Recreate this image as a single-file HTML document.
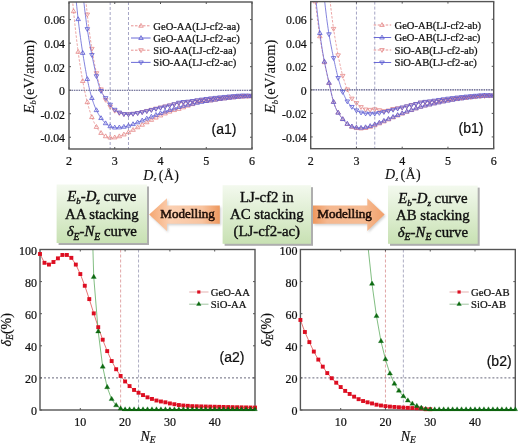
<!DOCTYPE html>
<html><head><meta charset="utf-8"><title>Figure</title>
<style>html,body{margin:0;padding:0;background:#fff;}svg{display:block;}text{stroke:#111;stroke-width:0.22px;}</style></head>
<body><svg width="520" height="444" viewBox="0 0 520 444">
<defs>
<filter id="blur" x="-10%" y="-10%" width="120%" height="120%"><feGaussianBlur stdDeviation="1"/></filter><filter id="soft" x="0" y="0" width="100%" height="100%" filterUnits="userSpaceOnUse"><feGaussianBlur stdDeviation="0.35"/></filter><filter id="blur2" x="-10%" y="-10%" width="120%" height="120%"><feGaussianBlur stdDeviation="0.6"/></filter>
<linearGradient id="gg" x1="0" y1="0" x2="0" y2="1"><stop offset="0" stop-color="#f3f9ee"/><stop offset="1" stop-color="#c8e1b3"/></linearGradient>
<linearGradient id="oL" x1="0" y1="0" x2="1" y2="0"><stop offset="0" stop-color="#f5a670"/><stop offset="0.3" stop-color="#fbd0b2"/><stop offset="0.75" stop-color="#f8c4a0"/><stop offset="1" stop-color="#ee985e"/></linearGradient>
<linearGradient id="oR" x1="0" y1="0" x2="1" y2="0"><stop offset="0" stop-color="#ee985e"/><stop offset="0.2" stop-color="#f5b890"/><stop offset="0.7" stop-color="#f6bc94"/><stop offset="1" stop-color="#f2a06a"/></linearGradient>
</defs>
<rect width="520" height="444" fill="#fff"/>
<g font-family="'Liberation Serif','Times New Roman',serif" fill="#111" filter="url(#soft)">
<clipPath id="c69"><rect x="69" y="2" width="183" height="147"/></clipPath>
<line x1="110.17" y1="2" x2="110.17" y2="149" stroke="#a4a4c4" stroke-width="1" stroke-dasharray="3,2"/>
<line x1="128.47" y1="2" x2="128.47" y2="149" stroke="#a4a4c4" stroke-width="1" stroke-dasharray="3,2"/>
<line x1="69" y1="90.20" x2="252" y2="90.20" stroke="#505080" stroke-width="1.1" stroke-dasharray="1.6,0.8"/>
<g clip-path="url(#c69)">
<polyline points="69.46,-36.30 69.92,-30.44 70.37,-24.73 70.83,-19.17 71.29,-13.75 71.75,-8.48 72.20,-3.34 72.66,1.67 73.12,6.54 73.58,11.29 74.03,15.91 74.49,20.40 74.95,24.77 75.41,29.01 75.86,33.13 76.32,37.12 76.78,40.99 77.24,44.74 77.69,48.36 78.15,51.86 78.61,55.25 79.07,58.52 79.52,61.67 79.98,64.72 80.44,67.67 80.89,70.52 81.35,73.27 81.81,75.94 82.27,78.52 82.72,81.03 83.18,83.45 83.64,85.81 84.10,88.09 84.55,90.31 85.01,92.46 85.47,94.54 85.93,96.56 86.38,98.51 86.84,100.40 87.30,102.23 87.76,103.99 88.22,105.69 88.67,107.32 89.13,108.90 89.59,110.41 90.05,111.87 90.50,113.27 90.96,114.61 91.42,115.90 91.88,117.14 92.33,118.32 92.79,119.46 93.25,120.54 93.70,121.59 94.16,122.58 94.62,123.53 95.08,124.44 95.53,125.31 95.99,126.14 96.45,126.94 96.91,127.69 97.37,128.41 97.82,129.09 98.28,129.74 98.74,130.36 99.20,130.94 99.65,131.50 100.11,132.02 100.57,132.52 101.03,132.98 101.48,133.42 101.94,133.84 102.40,134.22 102.86,134.59 103.31,134.93 103.77,135.24 104.23,135.54 104.69,135.81 105.14,136.06 105.60,136.29 106.06,136.50 106.52,136.69 106.97,136.86 107.43,137.02 107.89,137.15 108.34,137.27 108.80,137.38 109.26,137.47 109.72,137.54 110.17,137.59 110.63,137.63 111.09,137.66 111.55,137.68 112.00,137.68 112.46,137.67 112.92,137.64 113.38,137.61 113.84,137.56 114.29,137.50 114.75,137.44 115.21,137.36 115.66,137.27 116.12,137.18 116.58,137.08 117.04,136.97 117.50,136.85 117.95,136.72 118.41,136.59 118.87,136.45 119.33,136.30 119.78,136.14 120.24,135.98 120.70,135.82 121.16,135.64 121.61,135.47 122.07,135.28 122.53,135.10 122.98,134.90 123.44,134.71 123.90,134.50 124.36,134.30 124.81,134.09 125.27,133.88 125.73,133.66 126.19,133.44 126.64,133.22 127.10,132.99 127.56,132.76 128.02,132.53 128.47,132.30 128.93,132.06 129.39,131.83 129.85,131.59 130.31,131.34 130.76,131.10 131.22,130.86 131.68,130.61 132.13,130.36 132.59,130.12 133.05,129.87 133.51,129.62 133.97,129.36 134.42,129.11 134.88,128.86 135.34,128.61 135.80,128.35 136.25,128.10 136.71,127.84 137.17,127.59 137.62,127.33 138.08,127.08 138.54,126.82 139.00,126.57 139.45,126.31 139.91,126.06 140.37,125.80 140.83,125.55 141.28,125.29 141.74,125.04 142.20,124.79 142.66,124.54 143.12,124.28 143.57,124.03 144.03,123.78 144.49,123.53 144.94,123.28 145.40,123.04 145.86,122.79 146.32,122.54 146.78,122.30 147.23,122.05 147.69,121.81 148.15,121.57 148.61,121.32 149.06,121.08 149.52,120.85 149.98,120.61 150.44,120.37 150.89,120.13 151.35,119.90 151.81,119.67 152.27,119.44 152.72,119.20 153.18,118.98 153.64,118.75 154.10,118.52 154.55,118.29 155.01,118.07 155.47,117.85 155.93,117.63 156.38,117.41 156.84,117.19 157.30,116.97 157.75,116.75 158.21,116.54 158.67,116.33 159.13,116.12 159.58,115.91 160.04,115.70 160.50,115.49 160.96,115.28 161.41,115.08 161.87,114.88 162.33,114.67 162.79,114.47 163.25,114.28 163.70,114.08 164.16,113.88 164.62,113.69 165.07,113.50 165.53,113.30 165.99,113.12 166.45,112.93 166.91,112.74 167.36,112.56 167.82,112.37 168.28,112.19 168.73,112.01 169.19,111.84 169.65,111.66 170.11,111.49 170.57,111.32 171.02,111.16 171.48,111.00 171.94,110.84 172.39,110.69 172.85,110.54 173.31,110.40 173.77,110.26 174.23,110.13 174.68,110.01 175.14,109.88 175.60,109.77 176.06,109.65 176.51,109.54 176.97,109.42 177.43,109.31 177.88,109.20 178.34,109.08 178.80,108.95 179.26,108.82 179.72,108.69 180.17,108.55 180.63,108.40 181.09,108.24 181.55,108.07 182.00,107.90 182.46,107.73 182.92,107.55 183.38,107.37 183.83,107.19 184.29,107.01 184.75,106.83 185.20,106.65 185.66,106.48 186.12,106.31 186.58,106.15 187.03,105.99 187.49,105.83 187.95,105.68 188.41,105.53 188.87,105.38 189.32,105.24 189.78,105.10 190.24,104.95 190.69,104.80 191.15,104.66 191.61,104.50 192.07,104.35 192.53,104.18 192.98,104.01 193.44,103.84 193.90,103.65 194.36,103.47 194.81,103.27 195.27,103.07 195.73,102.87 196.19,102.67 196.64,102.47 197.10,102.28 197.56,102.09 198.02,101.92 198.47,101.76 198.93,101.61 199.39,101.48 199.84,101.37 200.30,101.28 200.76,101.21 201.22,101.16 201.68,101.12 202.13,101.09 202.59,101.08 203.05,101.07 203.50,101.07 203.96,101.07 204.42,101.07 204.88,101.07 205.34,101.06 205.79,101.05 206.25,101.03 206.71,101.00 207.16,100.97 207.62,100.93 208.08,100.88 208.54,100.83 209.00,100.77 209.45,100.71 209.91,100.64 210.37,100.57 210.82,100.50 211.28,100.43 211.74,100.35 212.20,100.28 212.66,100.20 213.11,100.13 213.57,100.05 214.03,99.98 214.48,99.90 214.94,99.83 215.40,99.76 215.86,99.68 216.32,99.61 216.77,99.54 217.23,99.47 217.69,99.40 218.14,99.33 218.60,99.26 219.06,99.19 219.52,99.12 219.98,99.05 220.43,98.99 220.89,98.92 221.35,98.86 221.81,98.79 222.26,98.73 222.72,98.66 223.18,98.60 223.63,98.54 224.09,98.47 224.55,98.41 225.01,98.35 225.47,98.29 225.92,98.23 226.38,98.17 226.84,98.11 227.29,98.05 227.75,97.99 228.21,97.94 228.67,97.88 229.12,97.82 229.58,97.77 230.04,97.71 230.50,97.66 230.96,97.60 231.41,97.55 231.87,97.50 232.33,97.44 232.78,97.39 233.24,97.34 233.70,97.29 234.16,97.23 234.62,97.18 235.07,97.13 235.53,97.08 235.99,97.03 236.44,96.99 236.90,96.94 237.36,96.89 237.82,96.84 238.28,96.79 238.73,96.75 239.19,96.70 239.65,96.66 240.11,96.62 240.56,96.57 241.02,96.53 241.48,96.49 241.94,96.46 242.39,96.43 242.85,96.40 243.31,96.37 243.77,96.35 244.22,96.33 244.68,96.32 245.14,96.31 245.59,96.31 246.05,96.32 246.51,96.33 246.97,96.35 247.43,96.37 247.88,96.39 248.34,96.42 248.80,96.44 249.25,96.46 249.71,96.48 250.17,96.49 250.63,96.49 251.09,96.48 251.54,96.46 252.00,96.43" fill="none" stroke="#e48686" stroke-width="0.75" stroke-dasharray="2.5,1.5"/>
<polygon points="73.58,8.89 75.86,12.73 71.30,12.73" fill="none" stroke="#e48686" stroke-width="0.8"/>
<polygon points="78.15,49.46 80.43,53.30 75.87,53.30" fill="none" stroke="#e48686" stroke-width="0.8"/>
<polygon points="82.73,78.63 85.01,82.47 80.45,82.47" fill="none" stroke="#e48686" stroke-width="0.8"/>
<polygon points="87.30,99.83 89.58,103.67 85.02,103.67" fill="none" stroke="#e48686" stroke-width="0.8"/>
<polygon points="91.88,114.74 94.16,118.58 89.60,118.58" fill="none" stroke="#e48686" stroke-width="0.8"/>
<polygon points="96.45,124.54 98.73,128.38 94.17,128.38" fill="none" stroke="#e48686" stroke-width="0.8"/>
<polygon points="101.03,130.58 103.31,134.42 98.75,134.42" fill="none" stroke="#e48686" stroke-width="0.8"/>
<polygon points="105.60,133.89 107.88,137.73 103.32,137.73" fill="none" stroke="#e48686" stroke-width="0.8"/>
<polygon points="110.18,135.19 112.46,139.03 107.90,139.03" fill="none" stroke="#e48686" stroke-width="0.8"/>
<polygon points="114.75,135.04 117.03,138.88 112.47,138.88" fill="none" stroke="#e48686" stroke-width="0.8"/>
<polygon points="119.33,133.90 121.61,137.74 117.05,137.74" fill="none" stroke="#e48686" stroke-width="0.8"/>
<polygon points="123.90,132.10 126.18,135.94 121.62,135.94" fill="none" stroke="#e48686" stroke-width="0.8"/>
<polygon points="128.48,129.90 130.76,133.74 126.20,133.74" fill="none" stroke="#e48686" stroke-width="0.8"/>
<polygon points="133.05,127.47 135.33,131.31 130.77,131.31" fill="none" stroke="#e48686" stroke-width="0.8"/>
<polygon points="137.63,124.93 139.91,128.77 135.35,128.77" fill="none" stroke="#e48686" stroke-width="0.8"/>
<polygon points="142.20,122.39 144.48,126.23 139.92,126.23" fill="none" stroke="#e48686" stroke-width="0.8"/>
<polygon points="146.78,119.90 149.06,123.74 144.50,123.74" fill="none" stroke="#e48686" stroke-width="0.8"/>
<polygon points="151.35,117.50 153.63,121.34 149.07,121.34" fill="none" stroke="#e48686" stroke-width="0.8"/>
<polygon points="155.93,115.23 158.21,119.07 153.65,119.07" fill="none" stroke="#e48686" stroke-width="0.8"/>
<polygon points="160.50,113.09 162.78,116.93 158.22,116.93" fill="none" stroke="#e48686" stroke-width="0.8"/>
<polygon points="165.08,111.10 167.36,114.94 162.80,114.94" fill="none" stroke="#e48686" stroke-width="0.8"/>
<polygon points="169.65,109.26 171.93,113.10 167.37,113.10" fill="none" stroke="#e48686" stroke-width="0.8"/>
<polygon points="174.23,107.73 176.51,111.57 171.95,111.57" fill="none" stroke="#e48686" stroke-width="0.8"/>
<polygon points="178.80,106.55 181.08,110.39 176.52,110.39" fill="none" stroke="#e48686" stroke-width="0.8"/>
<polygon points="183.38,104.97 185.66,108.81 181.10,108.81" fill="none" stroke="#e48686" stroke-width="0.8"/>
<polygon points="187.95,103.28 190.23,107.12 185.67,107.12" fill="none" stroke="#e48686" stroke-width="0.8"/>
<polygon points="192.53,101.78 194.81,105.62 190.25,105.62" fill="none" stroke="#e48686" stroke-width="0.8"/>
<polygon points="197.10,99.88 199.38,103.72 194.82,103.72" fill="none" stroke="#e48686" stroke-width="0.8"/>
<polygon points="201.68,98.72 203.96,102.56 199.40,102.56" fill="none" stroke="#e48686" stroke-width="0.8"/>
<polygon points="206.25,98.63 208.53,102.47 203.97,102.47" fill="none" stroke="#e48686" stroke-width="0.8"/>
<polygon points="210.83,98.10 213.11,101.94 208.55,101.94" fill="none" stroke="#e48686" stroke-width="0.8"/>
<polygon points="215.40,97.36 217.68,101.20 213.12,101.20" fill="none" stroke="#e48686" stroke-width="0.8"/>
<polygon points="219.98,96.65 222.26,100.49 217.70,100.49" fill="none" stroke="#e48686" stroke-width="0.8"/>
<polygon points="224.55,96.01 226.83,99.85 222.27,99.85" fill="none" stroke="#e48686" stroke-width="0.8"/>
<polygon points="229.13,95.42 231.41,99.26 226.85,99.26" fill="none" stroke="#e48686" stroke-width="0.8"/>
<polygon points="233.70,94.89 235.98,98.73 231.42,98.73" fill="none" stroke="#e48686" stroke-width="0.8"/>
<polygon points="238.28,94.39 240.56,98.23 236.00,98.23" fill="none" stroke="#e48686" stroke-width="0.8"/>
<polygon points="242.85,94.00 245.13,97.84 240.57,97.84" fill="none" stroke="#e48686" stroke-width="0.8"/>
<polygon points="247.43,93.97 249.71,97.81 245.15,97.81" fill="none" stroke="#e48686" stroke-width="0.8"/>
<polygon points="252.00,94.03 254.28,97.87 249.72,97.87" fill="none" stroke="#e48686" stroke-width="0.8"/>
<polyline points="73.12,-34.10 73.58,-28.45 74.03,-22.96 74.49,-17.63 74.95,-12.47 75.41,-7.47 75.86,-2.63 76.32,2.05 76.78,6.56 77.24,10.92 77.69,15.12 78.15,19.17 78.61,23.07 79.07,26.84 79.52,30.47 79.98,33.97 80.44,37.36 80.89,40.65 81.35,43.84 81.81,46.95 82.27,49.97 82.72,52.92 83.18,55.81 83.64,58.63 84.10,61.39 84.55,64.09 85.01,66.74 85.47,69.32 85.93,71.85 86.38,74.31 86.84,76.70 87.30,79.03 87.76,81.28 88.22,83.46 88.67,85.56 89.13,87.58 89.59,89.53 90.05,91.40 90.50,93.18 90.96,94.89 91.42,96.52 91.88,98.08 92.33,99.56 92.79,100.98 93.25,102.32 93.70,103.61 94.16,104.83 94.62,106.00 95.08,107.12 95.53,108.18 95.99,109.21 96.45,110.19 96.91,111.13 97.37,112.03 97.82,112.90 98.28,113.74 98.74,114.54 99.20,115.31 99.65,116.06 100.11,116.77 100.57,117.46 101.03,118.12 101.48,118.75 101.94,119.36 102.40,119.93 102.86,120.49 103.31,121.01 103.77,121.52 104.23,121.99 104.69,122.45 105.14,122.88 105.60,123.28 106.06,123.67 106.52,124.03 106.97,124.38 107.43,124.70 107.89,125.01 108.34,125.30 108.80,125.57 109.26,125.82 109.72,126.05 110.17,126.27 110.63,126.47 111.09,126.66 111.55,126.83 112.00,126.98 112.46,127.12 112.92,127.24 113.38,127.34 113.84,127.43 114.29,127.50 114.75,127.56 115.21,127.60 115.66,127.62 116.12,127.64 116.58,127.63 117.04,127.62 117.50,127.60 117.95,127.57 118.41,127.53 118.87,127.49 119.33,127.44 119.78,127.39 120.24,127.33 120.70,127.27 121.16,127.21 121.61,127.15 122.07,127.08 122.53,127.02 122.98,126.94 123.44,126.87 123.90,126.79 124.36,126.70 124.81,126.62 125.27,126.52 125.73,126.42 126.19,126.31 126.64,126.20 127.10,126.09 127.56,125.96 128.02,125.83 128.47,125.70 128.93,125.56 129.39,125.42 129.85,125.27 130.31,125.12 130.76,124.97 131.22,124.81 131.68,124.65 132.13,124.49 132.59,124.32 133.05,124.15 133.51,123.98 133.97,123.81 134.42,123.63 134.88,123.46 135.34,123.28 135.80,123.10 136.25,122.92 136.71,122.74 137.17,122.56 137.62,122.37 138.08,122.19 138.54,122.00 139.00,121.82 139.45,121.63 139.91,121.44 140.37,121.25 140.83,121.07 141.28,120.88 141.74,120.69 142.20,120.50 142.66,120.31 143.12,120.12 143.57,119.93 144.03,119.73 144.49,119.54 144.94,119.35 145.40,119.16 145.86,118.97 146.32,118.78 146.78,118.59 147.23,118.40 147.69,118.21 148.15,118.02 148.61,117.83 149.06,117.65 149.52,117.46 149.98,117.27 150.44,117.08 150.89,116.90 151.35,116.71 151.81,116.53 152.27,116.34 152.72,116.16 153.18,115.98 153.64,115.79 154.10,115.61 154.55,115.43 155.01,115.25 155.47,115.07 155.93,114.89 156.38,114.71 156.84,114.54 157.30,114.36 157.75,114.19 158.21,114.01 158.67,113.84 159.13,113.66 159.58,113.49 160.04,113.32 160.50,113.15 160.96,112.98 161.41,112.82 161.87,112.65 162.33,112.48 162.79,112.32 163.25,112.15 163.70,111.99 164.16,111.83 164.62,111.67 165.07,111.51 165.53,111.35 165.99,111.19 166.45,111.03 166.91,110.88 167.36,110.72 167.82,110.57 168.28,110.42 168.73,110.26 169.19,110.11 169.65,109.96 170.11,109.81 170.57,109.66 171.02,109.51 171.48,109.36 171.94,109.22 172.39,109.07 172.85,108.92 173.31,108.77 173.77,108.63 174.23,108.48 174.68,108.33 175.14,108.19 175.60,108.04 176.06,107.90 176.51,107.75 176.97,107.61 177.43,107.47 177.88,107.33 178.34,107.19 178.80,107.05 179.26,106.92 179.72,106.79 180.17,106.66 180.63,106.54 181.09,106.42 181.55,106.30 182.00,106.18 182.46,106.07 182.92,105.96 183.38,105.85 183.83,105.74 184.29,105.63 184.75,105.53 185.20,105.42 185.66,105.31 186.12,105.21 186.58,105.10 187.03,105.00 187.49,104.89 187.95,104.79 188.41,104.68 188.87,104.58 189.32,104.47 189.78,104.37 190.24,104.26 190.69,104.16 191.15,104.06 191.61,103.95 192.07,103.85 192.53,103.75 192.98,103.65 193.44,103.55 193.90,103.45 194.36,103.35 194.81,103.26 195.27,103.16 195.73,103.07 196.19,102.97 196.64,102.88 197.10,102.78 197.56,102.69 198.02,102.60 198.47,102.51 198.93,102.42 199.39,102.33 199.84,102.24 200.30,102.15 200.76,102.06 201.22,101.98 201.68,101.89 202.13,101.81 202.59,101.72 203.05,101.64 203.50,101.55 203.96,101.47 204.42,101.39 204.88,101.31 205.34,101.23 205.79,101.15 206.25,101.07 206.71,100.99 207.16,100.91 207.62,100.84 208.08,100.76 208.54,100.68 209.00,100.61 209.45,100.54 209.91,100.46 210.37,100.39 210.82,100.32 211.28,100.24 211.74,100.17 212.20,100.10 212.66,100.03 213.11,99.96 213.57,99.89 214.03,99.82 214.48,99.76 214.94,99.69 215.40,99.62 215.86,99.56 216.32,99.49 216.77,99.43 217.23,99.36 217.69,99.30 218.14,99.23 218.60,99.17 219.06,99.11 219.52,99.05 219.98,98.98 220.43,98.92 220.89,98.86 221.35,98.80 221.81,98.74 222.26,98.69 222.72,98.63 223.18,98.57 223.63,98.51 224.09,98.45 224.55,98.40 225.01,98.34 225.47,98.29 225.92,98.23 226.38,98.18 226.84,98.12 227.29,98.07 227.75,98.02 228.21,97.96 228.67,97.91 229.12,97.86 229.58,97.81 230.04,97.76 230.50,97.70 230.96,97.65 231.41,97.60 231.87,97.56 232.33,97.51 232.78,97.46 233.24,97.41 233.70,97.36 234.16,97.31 234.62,97.27 235.07,97.22 235.53,97.17 235.99,97.13 236.44,97.08 236.90,97.04 237.36,96.99 237.82,96.95 238.28,96.90 238.73,96.86 239.19,96.82 239.65,96.77 240.11,96.73 240.56,96.69 241.02,96.65 241.48,96.61 241.94,96.57 242.39,96.54 242.85,96.50 243.31,96.47 243.77,96.44 244.22,96.41 244.68,96.38 245.14,96.35 245.59,96.33 246.05,96.31 246.51,96.29 246.97,96.28 247.43,96.26 247.88,96.25 248.34,96.24 248.80,96.23 249.25,96.22 249.71,96.20 250.17,96.18 250.63,96.16 251.09,96.14 251.54,96.11 252.00,96.08" fill="none" stroke="#5a5ad2" stroke-width="0.75"/>
<polygon points="78.15,16.77 80.43,20.61 75.87,20.61" fill="none" stroke="#5a5ad2" stroke-width="0.8"/>
<polygon points="82.73,50.52 85.01,54.36 80.45,54.36" fill="none" stroke="#5a5ad2" stroke-width="0.8"/>
<polygon points="87.30,76.63 89.58,80.47 85.02,80.47" fill="none" stroke="#5a5ad2" stroke-width="0.8"/>
<polygon points="91.88,95.68 94.16,99.52 89.60,99.52" fill="none" stroke="#5a5ad2" stroke-width="0.8"/>
<polygon points="96.45,107.79 98.73,111.63 94.17,111.63" fill="none" stroke="#5a5ad2" stroke-width="0.8"/>
<polygon points="101.03,115.72 103.31,119.56 98.75,119.56" fill="none" stroke="#5a5ad2" stroke-width="0.8"/>
<polygon points="105.60,120.88 107.88,124.72 103.32,124.72" fill="none" stroke="#5a5ad2" stroke-width="0.8"/>
<polygon points="110.18,123.87 112.46,127.71 107.90,127.71" fill="none" stroke="#5a5ad2" stroke-width="0.8"/>
<polygon points="114.75,125.16 117.03,129.00 112.47,129.00" fill="none" stroke="#5a5ad2" stroke-width="0.8"/>
<polygon points="119.33,125.04 121.61,128.88 117.05,128.88" fill="none" stroke="#5a5ad2" stroke-width="0.8"/>
<polygon points="123.90,124.39 126.18,128.23 121.62,128.23" fill="none" stroke="#5a5ad2" stroke-width="0.8"/>
<polygon points="128.48,123.30 130.76,127.14 126.20,127.14" fill="none" stroke="#5a5ad2" stroke-width="0.8"/>
<polygon points="133.05,121.75 135.33,125.59 130.77,125.59" fill="none" stroke="#5a5ad2" stroke-width="0.8"/>
<polygon points="137.63,119.97 139.91,123.81 135.35,123.81" fill="none" stroke="#5a5ad2" stroke-width="0.8"/>
<polygon points="142.20,118.10 144.48,121.94 139.92,121.94" fill="none" stroke="#5a5ad2" stroke-width="0.8"/>
<polygon points="146.78,116.19 149.06,120.03 144.50,120.03" fill="none" stroke="#5a5ad2" stroke-width="0.8"/>
<polygon points="151.35,114.31 153.63,118.15 149.07,118.15" fill="none" stroke="#5a5ad2" stroke-width="0.8"/>
<polygon points="155.93,112.49 158.21,116.33 153.65,116.33" fill="none" stroke="#5a5ad2" stroke-width="0.8"/>
<polygon points="160.50,110.75 162.78,114.59 158.22,114.59" fill="none" stroke="#5a5ad2" stroke-width="0.8"/>
<polygon points="165.08,109.11 167.36,112.95 162.80,112.95" fill="none" stroke="#5a5ad2" stroke-width="0.8"/>
<polygon points="169.65,107.56 171.93,111.40 167.37,111.40" fill="none" stroke="#5a5ad2" stroke-width="0.8"/>
<polygon points="174.23,106.08 176.51,109.92 171.95,109.92" fill="none" stroke="#5a5ad2" stroke-width="0.8"/>
<polygon points="178.80,104.65 181.08,108.49 176.52,108.49" fill="none" stroke="#5a5ad2" stroke-width="0.8"/>
<polygon points="183.38,103.45 185.66,107.29 181.10,107.29" fill="none" stroke="#5a5ad2" stroke-width="0.8"/>
<polygon points="187.95,102.39 190.23,106.23 185.67,106.23" fill="none" stroke="#5a5ad2" stroke-width="0.8"/>
<polygon points="192.53,101.35 194.81,105.19 190.25,105.19" fill="none" stroke="#5a5ad2" stroke-width="0.8"/>
<polygon points="197.10,100.38 199.38,104.22 194.82,104.22" fill="none" stroke="#5a5ad2" stroke-width="0.8"/>
<polygon points="201.68,99.49 203.96,103.33 199.40,103.33" fill="none" stroke="#5a5ad2" stroke-width="0.8"/>
<polygon points="206.25,98.67 208.53,102.51 203.97,102.51" fill="none" stroke="#5a5ad2" stroke-width="0.8"/>
<polygon points="210.83,97.92 213.11,101.76 208.55,101.76" fill="none" stroke="#5a5ad2" stroke-width="0.8"/>
<polygon points="215.40,97.22 217.68,101.06 213.12,101.06" fill="none" stroke="#5a5ad2" stroke-width="0.8"/>
<polygon points="219.98,96.58 222.26,100.42 217.70,100.42" fill="none" stroke="#5a5ad2" stroke-width="0.8"/>
<polygon points="224.55,96.00 226.83,99.84 222.27,99.84" fill="none" stroke="#5a5ad2" stroke-width="0.8"/>
<polygon points="229.13,95.46 231.41,99.30 226.85,99.30" fill="none" stroke="#5a5ad2" stroke-width="0.8"/>
<polygon points="233.70,94.96 235.98,98.80 231.42,98.80" fill="none" stroke="#5a5ad2" stroke-width="0.8"/>
<polygon points="238.28,94.50 240.56,98.34 236.00,98.34" fill="none" stroke="#5a5ad2" stroke-width="0.8"/>
<polygon points="242.85,94.10 245.13,97.94 240.57,97.94" fill="none" stroke="#5a5ad2" stroke-width="0.8"/>
<polygon points="247.43,93.86 249.71,97.70 245.15,97.70" fill="none" stroke="#5a5ad2" stroke-width="0.8"/>
<polygon points="252.00,93.68 254.28,97.52 249.72,97.52" fill="none" stroke="#5a5ad2" stroke-width="0.8"/>
<polyline points="82.72,-35.53 83.18,-29.66 83.64,-23.99 84.10,-18.53 84.55,-13.26 85.01,-8.18 85.47,-3.30 85.93,1.41 86.38,5.94 86.84,10.29 87.30,14.48 87.76,18.51 88.22,22.39 88.67,26.12 89.13,29.72 89.59,33.18 90.05,36.53 90.50,39.75 90.96,42.87 91.42,45.89 91.88,48.80 92.33,51.63 92.79,54.36 93.25,57.01 93.70,59.57 94.16,62.05 94.62,64.44 95.08,66.74 95.53,68.96 95.99,71.10 96.45,73.15 96.91,75.11 97.37,77.00 97.82,78.80 98.28,80.52 98.74,82.16 99.20,83.74 99.65,85.24 100.11,86.68 100.57,88.05 101.03,89.36 101.48,90.62 101.94,91.83 102.40,92.98 102.86,94.09 103.31,95.15 103.77,96.17 104.23,97.15 104.69,98.08 105.14,98.98 105.60,99.84 106.06,100.67 106.52,101.46 106.97,102.22 107.43,102.94 107.89,103.63 108.34,104.29 108.80,104.92 109.26,105.52 109.72,106.09 110.17,106.63 110.63,107.15 111.09,107.64 111.55,108.11 112.00,108.55 112.46,108.98 112.92,109.37 113.38,109.75 113.84,110.11 114.29,110.45 114.75,110.76 115.21,111.06 115.66,111.34 116.12,111.61 116.58,111.86 117.04,112.09 117.50,112.31 117.95,112.51 118.41,112.70 118.87,112.88 119.33,113.04 119.78,113.19 120.24,113.33 120.70,113.46 121.16,113.58 121.61,113.69 122.07,113.79 122.53,113.88 122.98,113.96 123.44,114.03 123.90,114.10 124.36,114.15 124.81,114.20 125.27,114.24 125.73,114.28 126.19,114.30 126.64,114.32 127.10,114.33 127.56,114.33 128.02,114.32 128.47,114.31 128.93,114.29 129.39,114.26 129.85,114.22 130.31,114.18 130.76,114.13 131.22,114.08 131.68,114.02 132.13,113.96 132.59,113.89 133.05,113.82 133.51,113.75 133.97,113.67 134.42,113.60 134.88,113.52 135.34,113.43 135.80,113.35 136.25,113.26 136.71,113.17 137.17,113.08 137.62,112.99 138.08,112.90 138.54,112.81 139.00,112.71 139.45,112.61 139.91,112.51 140.37,112.41 140.83,112.31 141.28,112.21 141.74,112.11 142.20,112.00 142.66,111.89 143.12,111.79 143.57,111.68 144.03,111.57 144.49,111.46 144.94,111.35 145.40,111.24 145.86,111.13 146.32,111.02 146.78,110.90 147.23,110.79 147.69,110.68 148.15,110.56 148.61,110.45 149.06,110.33 149.52,110.22 149.98,110.11 150.44,109.99 150.89,109.88 151.35,109.76 151.81,109.65 152.27,109.53 152.72,109.42 153.18,109.30 153.64,109.19 154.10,109.07 154.55,108.96 155.01,108.84 155.47,108.73 155.93,108.62 156.38,108.50 156.84,108.39 157.30,108.28 157.75,108.16 158.21,108.05 158.67,107.94 159.13,107.83 159.58,107.72 160.04,107.61 160.50,107.50 160.96,107.39 161.41,107.28 161.87,107.17 162.33,107.06 162.79,106.95 163.25,106.85 163.70,106.74 164.16,106.63 164.62,106.53 165.07,106.42 165.53,106.32 165.99,106.21 166.45,106.11 166.91,106.01 167.36,105.91 167.82,105.80 168.28,105.70 168.73,105.60 169.19,105.50 169.65,105.40 170.11,105.29 170.57,105.19 171.02,105.09 171.48,104.98 171.94,104.88 172.39,104.77 172.85,104.66 173.31,104.55 173.77,104.44 174.23,104.33 174.68,104.21 175.14,104.09 175.60,103.98 176.06,103.86 176.51,103.74 176.97,103.62 177.43,103.51 177.88,103.39 178.34,103.29 178.80,103.18 179.26,103.08 179.72,102.99 180.17,102.90 180.63,102.82 181.09,102.74 181.55,102.67 182.00,102.61 182.46,102.55 182.92,102.49 183.38,102.43 183.83,102.38 184.29,102.33 184.75,102.28 185.20,102.23 185.66,102.17 186.12,102.12 186.58,102.06 187.03,102.01 187.49,101.95 187.95,101.88 188.41,101.82 188.87,101.76 189.32,101.69 189.78,101.62 190.24,101.56 190.69,101.49 191.15,101.42 191.61,101.35 192.07,101.28 192.53,101.21 192.98,101.14 193.44,101.08 193.90,101.01 194.36,100.94 194.81,100.87 195.27,100.81 195.73,100.74 196.19,100.68 196.64,100.61 197.10,100.55 197.56,100.48 198.02,100.42 198.47,100.36 198.93,100.29 199.39,100.23 199.84,100.17 200.30,100.11 200.76,100.05 201.22,99.99 201.68,99.93 202.13,99.87 202.59,99.81 203.05,99.75 203.50,99.69 203.96,99.64 204.42,99.58 204.88,99.52 205.34,99.47 205.79,99.41 206.25,99.35 206.71,99.30 207.16,99.24 207.62,99.19 208.08,99.14 208.54,99.08 209.00,99.03 209.45,98.98 209.91,98.93 210.37,98.87 210.82,98.82 211.28,98.77 211.74,98.72 212.20,98.67 212.66,98.62 213.11,98.57 213.57,98.52 214.03,98.47 214.48,98.42 214.94,98.38 215.40,98.33 215.86,98.28 216.32,98.24 216.77,98.19 217.23,98.14 217.69,98.10 218.14,98.05 218.60,98.01 219.06,97.96 219.52,97.92 219.98,97.87 220.43,97.83 220.89,97.78 221.35,97.74 221.81,97.70 222.26,97.66 222.72,97.61 223.18,97.57 223.63,97.53 224.09,97.49 224.55,97.45 225.01,97.41 225.47,97.37 225.92,97.33 226.38,97.29 226.84,97.25 227.29,97.21 227.75,97.17 228.21,97.13 228.67,97.09 229.12,97.05 229.58,97.01 230.04,96.98 230.50,96.94 230.96,96.90 231.41,96.87 231.87,96.83 232.33,96.79 232.78,96.76 233.24,96.72 233.70,96.69 234.16,96.65 234.62,96.62 235.07,96.58 235.53,96.55 235.99,96.51 236.44,96.48 236.90,96.44 237.36,96.41 237.82,96.38 238.28,96.34 238.73,96.31 239.19,96.28 239.65,96.25 240.11,96.22 240.56,96.19 241.02,96.16 241.48,96.13 241.94,96.10 242.39,96.08 242.85,96.05 243.31,96.03 243.77,96.01 244.22,95.99 244.68,95.97 245.14,95.96 245.59,95.95 246.05,95.94 246.51,95.93 246.97,95.93 247.43,95.93 247.88,95.92 248.34,95.92 248.80,95.92 249.25,95.92 249.71,95.92 250.17,95.91 250.63,95.90 251.09,95.89 251.54,95.87 252.00,95.84" fill="none" stroke="#e48686" stroke-width="0.75" stroke-dasharray="2.5,1.5"/>
<polygon points="87.30,16.88 89.58,13.04 85.02,13.04" fill="none" stroke="#e48686" stroke-width="0.8"/>
<polygon points="91.88,51.20 94.16,47.36 89.60,47.36" fill="none" stroke="#e48686" stroke-width="0.8"/>
<polygon points="96.45,75.55 98.73,71.71 94.17,71.71" fill="none" stroke="#e48686" stroke-width="0.8"/>
<polygon points="101.03,91.76 103.31,87.92 98.75,87.92" fill="none" stroke="#e48686" stroke-width="0.8"/>
<polygon points="105.60,102.24 107.88,98.40 103.32,98.40" fill="none" stroke="#e48686" stroke-width="0.8"/>
<polygon points="110.18,109.03 112.46,105.19 107.90,105.19" fill="none" stroke="#e48686" stroke-width="0.8"/>
<polygon points="114.75,113.16 117.03,109.32 112.47,109.32" fill="none" stroke="#e48686" stroke-width="0.8"/>
<polygon points="119.33,115.44 121.61,111.60 117.05,111.60" fill="none" stroke="#e48686" stroke-width="0.8"/>
<polygon points="123.90,116.50 126.18,112.66 121.62,112.66" fill="none" stroke="#e48686" stroke-width="0.8"/>
<polygon points="128.48,116.71 130.76,112.87 126.20,112.87" fill="none" stroke="#e48686" stroke-width="0.8"/>
<polygon points="133.05,116.22 135.33,112.38 130.77,112.38" fill="none" stroke="#e48686" stroke-width="0.8"/>
<polygon points="137.63,115.39 139.91,111.55 135.35,111.55" fill="none" stroke="#e48686" stroke-width="0.8"/>
<polygon points="142.20,114.40 144.48,110.56 139.92,110.56" fill="none" stroke="#e48686" stroke-width="0.8"/>
<polygon points="146.78,113.30 149.06,109.46 144.50,109.46" fill="none" stroke="#e48686" stroke-width="0.8"/>
<polygon points="151.35,112.16 153.63,108.32 149.07,108.32" fill="none" stroke="#e48686" stroke-width="0.8"/>
<polygon points="155.93,111.02 158.21,107.18 153.65,107.18" fill="none" stroke="#e48686" stroke-width="0.8"/>
<polygon points="160.50,109.90 162.78,106.06 158.22,106.06" fill="none" stroke="#e48686" stroke-width="0.8"/>
<polygon points="165.08,108.82 167.36,104.98 162.80,104.98" fill="none" stroke="#e48686" stroke-width="0.8"/>
<polygon points="169.65,107.80 171.93,103.96 167.37,103.96" fill="none" stroke="#e48686" stroke-width="0.8"/>
<polygon points="174.23,106.73 176.51,102.89 171.95,102.89" fill="none" stroke="#e48686" stroke-width="0.8"/>
<polygon points="178.80,105.58 181.08,101.74 176.52,101.74" fill="none" stroke="#e48686" stroke-width="0.8"/>
<polygon points="183.38,104.83 185.66,100.99 181.10,100.99" fill="none" stroke="#e48686" stroke-width="0.8"/>
<polygon points="187.95,104.28 190.23,100.44 185.67,100.44" fill="none" stroke="#e48686" stroke-width="0.8"/>
<polygon points="192.53,103.61 194.81,99.77 190.25,99.77" fill="none" stroke="#e48686" stroke-width="0.8"/>
<polygon points="197.10,102.95 199.38,99.11 194.82,99.11" fill="none" stroke="#e48686" stroke-width="0.8"/>
<polygon points="201.68,102.33 203.96,98.49 199.40,98.49" fill="none" stroke="#e48686" stroke-width="0.8"/>
<polygon points="206.25,101.75 208.53,97.91 203.97,97.91" fill="none" stroke="#e48686" stroke-width="0.8"/>
<polygon points="210.83,101.22 213.11,97.38 208.55,97.38" fill="none" stroke="#e48686" stroke-width="0.8"/>
<polygon points="215.40,100.73 217.68,96.89 213.12,96.89" fill="none" stroke="#e48686" stroke-width="0.8"/>
<polygon points="219.98,100.27 222.26,96.43 217.70,96.43" fill="none" stroke="#e48686" stroke-width="0.8"/>
<polygon points="224.55,99.85 226.83,96.01 222.27,96.01" fill="none" stroke="#e48686" stroke-width="0.8"/>
<polygon points="229.13,99.45 231.41,95.61 226.85,95.61" fill="none" stroke="#e48686" stroke-width="0.8"/>
<polygon points="233.70,99.09 235.98,95.25 231.42,95.25" fill="none" stroke="#e48686" stroke-width="0.8"/>
<polygon points="238.28,98.74 240.56,94.90 236.00,94.90" fill="none" stroke="#e48686" stroke-width="0.8"/>
<polygon points="242.85,98.45 245.13,94.61 240.57,94.61" fill="none" stroke="#e48686" stroke-width="0.8"/>
<polygon points="247.43,98.33 249.71,94.49 245.15,94.49" fill="none" stroke="#e48686" stroke-width="0.8"/>
<polygon points="252.00,98.24 254.28,94.40 249.72,94.40" fill="none" stroke="#e48686" stroke-width="0.8"/>
<polyline points="79.98,-37.74 80.44,-32.50 80.89,-27.40 81.35,-22.45 81.81,-17.64 82.27,-12.97 82.72,-8.45 83.18,-4.06 83.64,0.18 84.10,4.29 84.55,8.25 85.01,12.07 85.47,15.75 85.93,19.29 86.38,22.68 86.84,25.95 87.30,29.08 87.76,32.08 88.22,34.96 88.67,37.73 89.13,40.40 89.59,42.99 90.05,45.49 90.50,47.92 90.96,50.30 91.42,52.63 91.88,54.92 92.33,57.18 92.79,59.41 93.25,61.61 93.70,63.79 94.16,65.94 94.62,68.07 95.08,70.16 95.53,72.21 95.99,74.22 96.45,76.17 96.91,78.05 97.37,79.87 97.82,81.60 98.28,83.24 98.74,84.79 99.20,86.24 99.65,87.59 100.11,88.83 100.57,89.96 101.03,91.00 101.48,91.95 101.94,92.81 102.40,93.60 102.86,94.33 103.31,95.00 103.77,95.65 104.23,96.26 104.69,96.87 105.14,97.47 105.60,98.08 106.06,98.70 106.52,99.33 106.97,99.98 107.43,100.64 107.89,101.32 108.34,102.00 108.80,102.68 109.26,103.36 109.72,104.02 110.17,104.68 110.63,105.31 111.09,105.92 111.55,106.50 112.00,107.05 112.46,107.57 112.92,108.06 113.38,108.52 113.84,108.95 114.29,109.35 114.75,109.73 115.21,110.08 115.66,110.41 116.12,110.72 116.58,111.01 117.04,111.29 117.50,111.55 117.95,111.80 118.41,112.04 118.87,112.26 119.33,112.48 119.78,112.69 120.24,112.88 120.70,113.07 121.16,113.25 121.61,113.42 122.07,113.58 122.53,113.72 122.98,113.86 123.44,113.98 123.90,114.08 124.36,114.17 124.81,114.25 125.27,114.31 125.73,114.35 126.19,114.38 126.64,114.40 127.10,114.40 127.56,114.39 128.02,114.36 128.47,114.33 128.93,114.29 129.39,114.25 129.85,114.20 130.31,114.15 130.76,114.09 131.22,114.03 131.68,113.97 132.13,113.91 132.59,113.85 133.05,113.79 133.51,113.72 133.97,113.66 134.42,113.60 134.88,113.53 135.34,113.46 135.80,113.39 136.25,113.32 136.71,113.25 137.17,113.17 137.62,113.09 138.08,113.02 138.54,112.93 139.00,112.85 139.45,112.76 139.91,112.68 140.37,112.59 140.83,112.49 141.28,112.40 141.74,112.31 142.20,112.21 142.66,112.11 143.12,112.01 143.57,111.91 144.03,111.81 144.49,111.70 144.94,111.60 145.40,111.49 145.86,111.39 146.32,111.28 146.78,111.17 147.23,111.06 147.69,110.95 148.15,110.84 148.61,110.72 149.06,110.61 149.52,110.50 149.98,110.39 150.44,110.27 150.89,110.16 151.35,110.04 151.81,109.93 152.27,109.81 152.72,109.70 153.18,109.58 153.64,109.46 154.10,109.35 154.55,109.23 155.01,109.12 155.47,109.00 155.93,108.88 156.38,108.77 156.84,108.65 157.30,108.53 157.75,108.42 158.21,108.30 158.67,108.19 159.13,108.07 159.58,107.96 160.04,107.84 160.50,107.73 160.96,107.61 161.41,107.50 161.87,107.38 162.33,107.27 162.79,107.16 163.25,107.05 163.70,106.93 164.16,106.82 164.62,106.71 165.07,106.60 165.53,106.49 165.99,106.38 166.45,106.27 166.91,106.16 167.36,106.05 167.82,105.94 168.28,105.83 168.73,105.72 169.19,105.60 169.65,105.49 170.11,105.38 170.57,105.26 171.02,105.14 171.48,105.02 171.94,104.90 172.39,104.77 172.85,104.63 173.31,104.49 173.77,104.35 174.23,104.20 174.68,104.05 175.14,103.89 175.60,103.73 176.06,103.56 176.51,103.40 176.97,103.24 177.43,103.08 177.88,102.93 178.34,102.78 178.80,102.65 179.26,102.52 179.72,102.41 180.17,102.31 180.63,102.23 181.09,102.15 181.55,102.09 182.00,102.05 182.46,102.01 182.92,101.97 183.38,101.95 183.83,101.93 184.29,101.90 184.75,101.88 185.20,101.86 185.66,101.83 186.12,101.80 186.58,101.77 187.03,101.73 187.49,101.68 187.95,101.63 188.41,101.58 188.87,101.52 189.32,101.46 189.78,101.39 190.24,101.32 190.69,101.25 191.15,101.18 191.61,101.11 192.07,101.04 192.53,100.96 192.98,100.89 193.44,100.81 193.90,100.74 194.36,100.67 194.81,100.59 195.27,100.52 195.73,100.45 196.19,100.38 196.64,100.31 197.10,100.24 197.56,100.17 198.02,100.10 198.47,100.03 198.93,99.96 199.39,99.89 199.84,99.82 200.30,99.76 200.76,99.69 201.22,99.63 201.68,99.56 202.13,99.50 202.59,99.43 203.05,99.37 203.50,99.30 203.96,99.24 204.42,99.18 204.88,99.12 205.34,99.06 205.79,98.99 206.25,98.93 206.71,98.87 207.16,98.82 207.62,98.76 208.08,98.70 208.54,98.64 209.00,98.58 209.45,98.53 209.91,98.47 210.37,98.41 210.82,98.36 211.28,98.30 211.74,98.25 212.20,98.19 212.66,98.14 213.11,98.08 213.57,98.03 214.03,97.98 214.48,97.93 214.94,97.87 215.40,97.82 215.86,97.77 216.32,97.72 216.77,97.67 217.23,97.62 217.69,97.57 218.14,97.52 218.60,97.47 219.06,97.43 219.52,97.38 219.98,97.33 220.43,97.28 220.89,97.24 221.35,97.19 221.81,97.14 222.26,97.10 222.72,97.05 223.18,97.01 223.63,96.96 224.09,96.92 224.55,96.88 225.01,96.83 225.47,96.79 225.92,96.75 226.38,96.70 226.84,96.66 227.29,96.62 227.75,96.58 228.21,96.54 228.67,96.50 229.12,96.46 229.58,96.42 230.04,96.38 230.50,96.34 230.96,96.30 231.41,96.26 231.87,96.22 232.33,96.18 232.78,96.14 233.24,96.11 233.70,96.07 234.16,96.03 234.62,95.99 235.07,95.96 235.53,95.92 235.99,95.88 236.44,95.85 236.90,95.81 237.36,95.78 237.82,95.74 238.28,95.71 238.73,95.68 239.19,95.64 239.65,95.61 240.11,95.58 240.56,95.55 241.02,95.52 241.48,95.50 241.94,95.47 242.39,95.45 242.85,95.43 243.31,95.42 243.77,95.41 244.22,95.41 244.68,95.41 245.14,95.42 245.59,95.43 246.05,95.45 246.51,95.48 246.97,95.51 247.43,95.54 247.88,95.58 248.34,95.61 248.80,95.65 249.25,95.69 249.71,95.72 250.17,95.74 250.63,95.75 251.09,95.76 251.54,95.75 252.00,95.73" fill="none" stroke="#5a5ad2" stroke-width="0.75"/>
<polygon points="87.30,31.48 89.58,27.64 85.02,27.64" fill="none" stroke="#5a5ad2" stroke-width="0.8"/>
<polygon points="91.88,57.32 94.16,53.48 89.60,53.48" fill="none" stroke="#5a5ad2" stroke-width="0.8"/>
<polygon points="96.45,78.57 98.73,74.73 94.17,74.73" fill="none" stroke="#5a5ad2" stroke-width="0.8"/>
<polygon points="101.03,93.40 103.31,89.56 98.75,89.56" fill="none" stroke="#5a5ad2" stroke-width="0.8"/>
<polygon points="105.60,100.48 107.88,96.64 103.32,96.64" fill="none" stroke="#5a5ad2" stroke-width="0.8"/>
<polygon points="110.18,107.08 112.46,103.24 107.90,103.24" fill="none" stroke="#5a5ad2" stroke-width="0.8"/>
<polygon points="114.75,112.13 117.03,108.29 112.47,108.29" fill="none" stroke="#5a5ad2" stroke-width="0.8"/>
<polygon points="119.33,114.88 121.61,111.04 117.05,111.04" fill="none" stroke="#5a5ad2" stroke-width="0.8"/>
<polygon points="123.90,116.48 126.18,112.64 121.62,112.64" fill="none" stroke="#5a5ad2" stroke-width="0.8"/>
<polygon points="128.48,116.73 130.76,112.89 126.20,112.89" fill="none" stroke="#5a5ad2" stroke-width="0.8"/>
<polygon points="133.05,116.19 135.33,112.35 130.77,112.35" fill="none" stroke="#5a5ad2" stroke-width="0.8"/>
<polygon points="137.63,115.49 139.91,111.65 135.35,111.65" fill="none" stroke="#5a5ad2" stroke-width="0.8"/>
<polygon points="142.20,114.61 144.48,110.77 139.92,110.77" fill="none" stroke="#5a5ad2" stroke-width="0.8"/>
<polygon points="146.78,113.57 149.06,109.73 144.50,109.73" fill="none" stroke="#5a5ad2" stroke-width="0.8"/>
<polygon points="151.35,112.44 153.63,108.60 149.07,108.60" fill="none" stroke="#5a5ad2" stroke-width="0.8"/>
<polygon points="155.93,111.28 158.21,107.44 153.65,107.44" fill="none" stroke="#5a5ad2" stroke-width="0.8"/>
<polygon points="160.50,110.13 162.78,106.29 158.22,106.29" fill="none" stroke="#5a5ad2" stroke-width="0.8"/>
<polygon points="165.08,109.00 167.36,105.16 162.80,105.16" fill="none" stroke="#5a5ad2" stroke-width="0.8"/>
<polygon points="169.65,107.89 171.93,104.05 167.37,104.05" fill="none" stroke="#5a5ad2" stroke-width="0.8"/>
<polygon points="174.23,106.60 176.51,102.76 171.95,102.76" fill="none" stroke="#5a5ad2" stroke-width="0.8"/>
<polygon points="178.80,105.05 181.08,101.21 176.52,101.21" fill="none" stroke="#5a5ad2" stroke-width="0.8"/>
<polygon points="183.38,104.35 185.66,100.51 181.10,100.51" fill="none" stroke="#5a5ad2" stroke-width="0.8"/>
<polygon points="187.95,104.03 190.23,100.19 185.67,100.19" fill="none" stroke="#5a5ad2" stroke-width="0.8"/>
<polygon points="192.53,103.36 194.81,99.52 190.25,99.52" fill="none" stroke="#5a5ad2" stroke-width="0.8"/>
<polygon points="197.10,102.64 199.38,98.80 194.82,98.80" fill="none" stroke="#5a5ad2" stroke-width="0.8"/>
<polygon points="201.68,101.96 203.96,98.12 199.40,98.12" fill="none" stroke="#5a5ad2" stroke-width="0.8"/>
<polygon points="206.25,101.33 208.53,97.49 203.97,97.49" fill="none" stroke="#5a5ad2" stroke-width="0.8"/>
<polygon points="210.83,100.76 213.11,96.92 208.55,96.92" fill="none" stroke="#5a5ad2" stroke-width="0.8"/>
<polygon points="215.40,100.22 217.68,96.38 213.12,96.38" fill="none" stroke="#5a5ad2" stroke-width="0.8"/>
<polygon points="219.98,99.73 222.26,95.89 217.70,95.89" fill="none" stroke="#5a5ad2" stroke-width="0.8"/>
<polygon points="224.55,99.28 226.83,95.44 222.27,95.44" fill="none" stroke="#5a5ad2" stroke-width="0.8"/>
<polygon points="229.13,98.86 231.41,95.02 226.85,95.02" fill="none" stroke="#5a5ad2" stroke-width="0.8"/>
<polygon points="233.70,98.47 235.98,94.63 231.42,94.63" fill="none" stroke="#5a5ad2" stroke-width="0.8"/>
<polygon points="238.28,98.11 240.56,94.27 236.00,94.27" fill="none" stroke="#5a5ad2" stroke-width="0.8"/>
<polygon points="242.85,97.83 245.13,93.99 240.57,93.99" fill="none" stroke="#5a5ad2" stroke-width="0.8"/>
<polygon points="247.43,97.94 249.71,94.10 245.15,94.10" fill="none" stroke="#5a5ad2" stroke-width="0.8"/>
<polygon points="252.00,98.13 254.28,94.29 249.72,94.29" fill="none" stroke="#5a5ad2" stroke-width="0.8"/>
</g>
<g stroke="#555555" stroke-width="1">
<line x1="69.00" y1="149" x2="69.00" y2="147"/><line x1="69.00" y1="2" x2="69.00" y2="4"/>
<line x1="114.75" y1="149" x2="114.75" y2="147"/><line x1="114.75" y1="2" x2="114.75" y2="4"/>
<line x1="160.50" y1="149" x2="160.50" y2="147"/><line x1="160.50" y1="2" x2="160.50" y2="4"/>
<line x1="206.25" y1="149" x2="206.25" y2="147"/><line x1="206.25" y1="2" x2="206.25" y2="4"/>
<line x1="252.00" y1="149" x2="252.00" y2="147"/><line x1="252.00" y1="2" x2="252.00" y2="4"/>
<line x1="69" y1="137.24" x2="71" y2="137.24"/><line x1="252" y1="137.24" x2="250" y2="137.24"/>
<line x1="69" y1="113.72" x2="71" y2="113.72"/><line x1="252" y1="113.72" x2="250" y2="113.72"/>
<line x1="69" y1="90.20" x2="71" y2="90.20"/><line x1="252" y1="90.20" x2="250" y2="90.20"/>
<line x1="69" y1="66.68" x2="71" y2="66.68"/><line x1="252" y1="66.68" x2="250" y2="66.68"/>
<line x1="69" y1="43.16" x2="71" y2="43.16"/><line x1="252" y1="43.16" x2="250" y2="43.16"/>
<line x1="69" y1="19.64" x2="71" y2="19.64"/><line x1="252" y1="19.64" x2="250" y2="19.64"/>
</g>
<rect x="69" y="2" width="183" height="147" fill="none" stroke="#555555" stroke-width="1.4"/>
<text x="69.00" y="165" font-size="12" text-anchor="middle">2</text>
<text x="114.75" y="165" font-size="12" text-anchor="middle">3</text>
<text x="160.50" y="165" font-size="12" text-anchor="middle">4</text>
<text x="206.25" y="165" font-size="12" text-anchor="middle">5</text>
<text x="252.00" y="165" font-size="12" text-anchor="middle">6</text>
<text x="65" y="24.49" font-size="11.8" text-anchor="end">0.06</text>
<text x="65" y="48.01" font-size="11.8" text-anchor="end">0.04</text>
<text x="65" y="71.53" font-size="11.8" text-anchor="end">0.02</text>
<text x="65" y="95.05" font-size="11.8" text-anchor="end">0</text>
<text x="65" y="118.57" font-size="11.8" text-anchor="end">-0.02</text>
<text x="65" y="142.09" font-size="11.8" text-anchor="end">-0.04</text>
<text x="161.3" y="179.5" font-size="14" style="stroke-width:0.12px" letter-spacing="0.4" text-anchor="middle"><tspan font-style="italic">D</tspan><tspan font-style="italic" font-size="6.5" dy="1.3">z</tspan><tspan dy="-1.3" dx="2">(Å)</tspan></text>
<text transform="translate(33.6,76.70) rotate(-90)" font-size="14.6" style="stroke-width:0.15px" text-anchor="middle"><tspan font-style="italic">E</tspan><tspan font-style="italic" font-size="8.5" dy="2.6">b</tspan><tspan dy="-2.6" dx="0.5">(eV/atom)</tspan></text>
<line x1="131" y1="25.80" x2="150.6" y2="25.80" stroke="#e48686" stroke-width="0.9" stroke-dasharray="2.5,1.5"/>
<polygon points="141.00,23.40 143.28,27.24 138.72,27.24" fill="none" stroke="#e48686" stroke-width="0.8"/>
<text x="153.3" y="29.50" font-size="10.6">GeO-AA(LJ-cf2-aa)</text>
<line x1="131" y1="38.00" x2="150.6" y2="38.00" stroke="#5a5ad2" stroke-width="0.9"/>
<polygon points="141.00,35.60 143.28,39.44 138.72,39.44" fill="none" stroke="#5a5ad2" stroke-width="0.8"/>
<text x="153.3" y="41.70" font-size="10.6">GeO-AA(LJ-cf2-ac)</text>
<line x1="131" y1="50.20" x2="150.6" y2="50.20" stroke="#e48686" stroke-width="0.9" stroke-dasharray="2.5,1.5"/>
<polygon points="141.00,52.60 143.28,48.76 138.72,48.76" fill="none" stroke="#e48686" stroke-width="0.8"/>
<text x="153.3" y="53.90" font-size="10.6">SiO-AA(LJ-cf2-aa)</text>
<line x1="131" y1="62.40" x2="150.6" y2="62.40" stroke="#5a5ad2" stroke-width="0.9"/>
<polygon points="141.00,64.80 143.28,60.96 138.72,60.96" fill="none" stroke="#5a5ad2" stroke-width="0.8"/>
<text x="153.3" y="66.10" font-size="10.6">SiO-AA(LJ-cf2-ac)</text>
<text x="211.6" y="134" font-family="'Liberation Sans',Arial,sans-serif" font-size="14">(a1)</text>
<clipPath id="c310"><rect x="310.7" y="1.6" width="183.0" height="147.1"/></clipPath>
<line x1="356.45" y1="1.6" x2="356.45" y2="148.7" stroke="#a4a4c4" stroke-width="1" stroke-dasharray="3,2"/>
<line x1="374.75" y1="1.6" x2="374.75" y2="148.7" stroke="#a4a4c4" stroke-width="1" stroke-dasharray="3,2"/>
<line x1="310.7" y1="89.86" x2="493.7" y2="89.86" stroke="#505080" stroke-width="1.1" stroke-dasharray="1.6,0.8"/>
<g clip-path="url(#c310)">
<polyline points="311.16,-37.05 311.62,-32.48 312.07,-27.99 312.53,-23.57 312.99,-19.22 313.44,-14.95 313.90,-10.76 314.36,-6.64 314.82,-2.60 315.27,1.36 315.73,5.24 316.19,9.04 316.65,12.76 317.11,16.39 317.56,19.94 318.02,23.40 318.48,26.77 318.94,30.04 319.39,33.23 319.85,36.32 320.31,39.31 320.76,42.21 321.22,45.02 321.68,47.73 322.14,50.35 322.59,52.89 323.05,55.34 323.51,57.71 323.97,60.02 324.42,62.26 324.88,64.45 325.34,66.59 325.80,68.70 326.25,70.79 326.71,72.85 327.17,74.91 327.63,76.97 328.08,79.03 328.54,81.09 329.00,83.15 329.46,85.21 329.91,87.26 330.37,89.29 330.83,91.28 331.29,93.23 331.75,95.12 332.20,96.94 332.66,98.68 333.12,100.33 333.57,101.89 334.03,103.34 334.49,104.69 334.95,105.94 335.40,107.10 335.86,108.18 336.32,109.17 336.78,110.10 337.24,110.97 337.69,111.79 338.15,112.57 338.61,113.31 339.06,114.03 339.52,114.73 339.98,115.41 340.44,116.07 340.89,116.72 341.35,117.36 341.81,117.98 342.27,118.59 342.73,119.18 343.18,119.76 343.64,120.32 344.10,120.86 344.56,121.38 345.01,121.88 345.47,122.36 345.93,122.82 346.38,123.26 346.84,123.68 347.30,124.07 347.76,124.44 348.22,124.80 348.67,125.13 349.13,125.44 349.59,125.73 350.04,126.00 350.50,126.25 350.96,126.48 351.42,126.69 351.88,126.89 352.33,127.06 352.79,127.23 353.25,127.38 353.70,127.51 354.16,127.63 354.62,127.75 355.08,127.85 355.53,127.94 355.99,128.03 356.45,128.11 356.91,128.18 357.37,128.24 357.82,128.30 358.28,128.35 358.74,128.40 359.19,128.44 359.65,128.47 360.11,128.49 360.57,128.50 361.02,128.50 361.48,128.50 361.94,128.49 362.40,128.46 362.86,128.43 363.31,128.39 363.77,128.33 364.23,128.27 364.68,128.20 365.14,128.13 365.60,128.04 366.06,127.95 366.51,127.85 366.97,127.75 367.43,127.64 367.89,127.52 368.34,127.40 368.80,127.27 369.26,127.14 369.72,127.00 370.17,126.86 370.63,126.72 371.09,126.57 371.55,126.42 372.00,126.27 372.46,126.11 372.92,125.95 373.38,125.78 373.83,125.62 374.29,125.45 374.75,125.27 375.21,125.10 375.66,124.92 376.12,124.74 376.58,124.56 377.04,124.38 377.50,124.19 377.95,124.01 378.41,123.82 378.87,123.63 379.32,123.44 379.78,123.25 380.24,123.05 380.70,122.86 381.15,122.66 381.61,122.47 382.07,122.27 382.53,122.07 382.99,121.87 383.44,121.67 383.90,121.47 384.36,121.27 384.81,121.07 385.27,120.87 385.73,120.67 386.19,120.47 386.64,120.27 387.10,120.06 387.56,119.86 388.02,119.66 388.48,119.46 388.93,119.25 389.39,119.05 389.85,118.85 390.31,118.65 390.76,118.45 391.22,118.25 391.68,118.05 392.13,117.85 392.59,117.65 393.05,117.45 393.51,117.25 393.97,117.05 394.42,116.85 394.88,116.66 395.34,116.46 395.80,116.26 396.25,116.07 396.71,115.87 397.17,115.68 397.62,115.49 398.08,115.29 398.54,115.10 399.00,114.91 399.45,114.72 399.91,114.53 400.37,114.35 400.83,114.16 401.28,113.97 401.74,113.79 402.20,113.60 402.66,113.42 403.11,113.24 403.57,113.06 404.03,112.87 404.49,112.70 404.94,112.52 405.40,112.34 405.86,112.16 406.32,111.99 406.77,111.81 407.23,111.64 407.69,111.47 408.15,111.30 408.61,111.13 409.06,110.96 409.52,110.79 409.98,110.62 410.43,110.45 410.89,110.29 411.35,110.12 411.81,109.95 412.26,109.79 412.72,109.62 413.18,109.46 413.64,109.29 414.09,109.13 414.55,108.96 415.01,108.79 415.47,108.62 415.93,108.45 416.38,108.28 416.84,108.11 417.30,107.94 417.75,107.76 418.21,107.59 418.67,107.42 419.13,107.26 419.58,107.09 420.04,106.93 420.50,106.77 420.96,106.62 421.41,106.48 421.87,106.34 422.33,106.20 422.79,106.07 423.25,105.95 423.70,105.83 424.16,105.71 424.62,105.60 425.07,105.49 425.53,105.39 425.99,105.28 426.45,105.18 426.90,105.08 427.36,104.97 427.82,104.87 428.28,104.76 428.74,104.65 429.19,104.55 429.65,104.44 430.11,104.33 430.56,104.22 431.02,104.11 431.48,103.99 431.94,103.88 432.39,103.77 432.85,103.66 433.31,103.55 433.77,103.44 434.23,103.33 434.68,103.22 435.14,103.11 435.60,103.00 436.06,102.90 436.51,102.79 436.97,102.68 437.43,102.58 437.88,102.48 438.34,102.37 438.80,102.27 439.26,102.17 439.72,102.07 440.17,101.97 440.63,101.87 441.09,101.78 441.54,101.68 442.00,101.58 442.46,101.49 442.92,101.40 443.38,101.30 443.83,101.21 444.29,101.12 444.75,101.03 445.20,100.94 445.66,100.85 446.12,100.76 446.58,100.67 447.03,100.58 447.49,100.50 447.95,100.41 448.41,100.33 448.87,100.24 449.32,100.16 449.78,100.08 450.24,100.00 450.70,99.92 451.15,99.84 451.61,99.76 452.07,99.68 452.52,99.60 452.98,99.52 453.44,99.45 453.90,99.37 454.36,99.29 454.81,99.22 455.27,99.14 455.73,99.07 456.18,99.00 456.64,98.93 457.10,98.86 457.56,98.78 458.01,98.71 458.47,98.64 458.93,98.58 459.39,98.51 459.84,98.44 460.30,98.37 460.76,98.31 461.22,98.24 461.68,98.17 462.13,98.11 462.59,98.04 463.05,97.98 463.50,97.92 463.96,97.86 464.42,97.79 464.88,97.73 465.33,97.67 465.79,97.61 466.25,97.55 466.71,97.49 467.16,97.43 467.62,97.37 468.08,97.32 468.54,97.26 469.00,97.20 469.45,97.15 469.91,97.09 470.37,97.04 470.82,96.98 471.28,96.93 471.74,96.87 472.20,96.82 472.65,96.77 473.11,96.71 473.57,96.66 474.03,96.61 474.49,96.56 474.94,96.51 475.40,96.46 475.86,96.41 476.31,96.36 476.77,96.31 477.23,96.26 477.69,96.21 478.14,96.17 478.60,96.12 479.06,96.07 479.52,96.03 479.98,95.98 480.43,95.94 480.89,95.89 481.35,95.85 481.81,95.81 482.26,95.77 482.72,95.73 483.18,95.69 483.63,95.66 484.09,95.63 484.55,95.60 485.01,95.58 485.47,95.56 485.92,95.55 486.38,95.54 486.84,95.54 487.29,95.55 487.75,95.56 488.21,95.58 488.67,95.60 489.12,95.63 489.58,95.66 490.04,95.69 490.50,95.72 490.95,95.75 491.41,95.77 491.87,95.79 492.33,95.79 492.78,95.79 493.24,95.77 493.70,95.74" fill="none" stroke="#e48686" stroke-width="0.75" stroke-dasharray="2.5,1.5"/>
<polygon points="315.27,-1.04 317.55,2.80 313.00,2.80" fill="none" stroke="#e48686" stroke-width="0.8"/>
<polygon points="319.85,33.92 322.13,37.76 317.57,37.76" fill="none" stroke="#e48686" stroke-width="0.8"/>
<polygon points="324.43,59.86 326.70,63.70 322.15,63.70" fill="none" stroke="#e48686" stroke-width="0.8"/>
<polygon points="329.00,80.75 331.28,84.59 326.72,84.59" fill="none" stroke="#e48686" stroke-width="0.8"/>
<polygon points="333.57,99.49 335.85,103.33 331.30,103.33" fill="none" stroke="#e48686" stroke-width="0.8"/>
<polygon points="338.15,110.17 340.43,114.01 335.87,114.01" fill="none" stroke="#e48686" stroke-width="0.8"/>
<polygon points="342.73,116.78 345.00,120.62 340.45,120.62" fill="none" stroke="#e48686" stroke-width="0.8"/>
<polygon points="347.30,121.67 349.58,125.51 345.02,125.51" fill="none" stroke="#e48686" stroke-width="0.8"/>
<polygon points="351.88,124.49 354.15,128.33 349.60,128.33" fill="none" stroke="#e48686" stroke-width="0.8"/>
<polygon points="356.45,125.71 358.73,129.55 354.17,129.55" fill="none" stroke="#e48686" stroke-width="0.8"/>
<polygon points="361.03,126.10 363.31,129.94 358.75,129.94" fill="none" stroke="#e48686" stroke-width="0.8"/>
<polygon points="365.60,125.64 367.88,129.48 363.32,129.48" fill="none" stroke="#e48686" stroke-width="0.8"/>
<polygon points="370.18,124.46 372.46,128.30 367.90,128.30" fill="none" stroke="#e48686" stroke-width="0.8"/>
<polygon points="374.75,122.87 377.03,126.71 372.47,126.71" fill="none" stroke="#e48686" stroke-width="0.8"/>
<polygon points="379.33,121.04 381.61,124.88 377.05,124.88" fill="none" stroke="#e48686" stroke-width="0.8"/>
<polygon points="383.90,119.07 386.18,122.91 381.62,122.91" fill="none" stroke="#e48686" stroke-width="0.8"/>
<polygon points="388.48,117.06 390.75,120.90 386.20,120.90" fill="none" stroke="#e48686" stroke-width="0.8"/>
<polygon points="393.05,115.05 395.33,118.89 390.77,118.89" fill="none" stroke="#e48686" stroke-width="0.8"/>
<polygon points="397.63,113.09 399.91,116.93 395.35,116.93" fill="none" stroke="#e48686" stroke-width="0.8"/>
<polygon points="402.20,111.20 404.48,115.04 399.92,115.04" fill="none" stroke="#e48686" stroke-width="0.8"/>
<polygon points="406.78,109.41 409.06,113.25 404.50,113.25" fill="none" stroke="#e48686" stroke-width="0.8"/>
<polygon points="411.35,107.72 413.63,111.56 409.07,111.56" fill="none" stroke="#e48686" stroke-width="0.8"/>
<polygon points="415.93,106.05 418.21,109.89 413.65,109.89" fill="none" stroke="#e48686" stroke-width="0.8"/>
<polygon points="420.50,104.37 422.78,108.21 418.22,108.21" fill="none" stroke="#e48686" stroke-width="0.8"/>
<polygon points="425.08,103.09 427.36,106.93 422.80,106.93" fill="none" stroke="#e48686" stroke-width="0.8"/>
<polygon points="429.65,102.04 431.93,105.88 427.37,105.88" fill="none" stroke="#e48686" stroke-width="0.8"/>
<polygon points="434.23,100.93 436.51,104.77 431.95,104.77" fill="none" stroke="#e48686" stroke-width="0.8"/>
<polygon points="438.80,99.87 441.08,103.71 436.52,103.71" fill="none" stroke="#e48686" stroke-width="0.8"/>
<polygon points="443.38,98.90 445.66,102.74 441.10,102.74" fill="none" stroke="#e48686" stroke-width="0.8"/>
<polygon points="447.95,98.01 450.23,101.85 445.67,101.85" fill="none" stroke="#e48686" stroke-width="0.8"/>
<polygon points="452.53,97.20 454.81,101.04 450.25,101.04" fill="none" stroke="#e48686" stroke-width="0.8"/>
<polygon points="457.10,96.46 459.38,100.30 454.82,100.30" fill="none" stroke="#e48686" stroke-width="0.8"/>
<polygon points="461.68,95.77 463.96,99.61 459.40,99.61" fill="none" stroke="#e48686" stroke-width="0.8"/>
<polygon points="466.25,95.15 468.53,98.99 463.97,98.99" fill="none" stroke="#e48686" stroke-width="0.8"/>
<polygon points="470.83,94.58 473.11,98.42 468.55,98.42" fill="none" stroke="#e48686" stroke-width="0.8"/>
<polygon points="475.40,94.06 477.68,97.90 473.12,97.90" fill="none" stroke="#e48686" stroke-width="0.8"/>
<polygon points="479.98,93.58 482.26,97.42 477.70,97.42" fill="none" stroke="#e48686" stroke-width="0.8"/>
<polygon points="484.55,93.20 486.83,97.04 482.27,97.04" fill="none" stroke="#e48686" stroke-width="0.8"/>
<polygon points="489.13,93.23 491.41,97.07 486.85,97.07" fill="none" stroke="#e48686" stroke-width="0.8"/>
<polygon points="493.70,93.34 495.98,97.18 491.42,97.18" fill="none" stroke="#e48686" stroke-width="0.8"/>
<polyline points="312.53,-34.88 312.99,-29.79 313.44,-24.83 313.90,-19.98 314.36,-15.25 314.82,-10.64 315.27,-6.13 315.73,-1.74 316.19,2.55 316.65,6.73 317.11,10.80 317.56,14.77 318.02,18.64 318.48,22.41 318.94,26.07 319.39,29.63 319.85,33.09 320.31,36.44 320.76,39.67 321.22,42.80 321.68,45.82 322.14,48.72 322.59,51.51 323.05,54.19 323.51,56.77 323.97,59.24 324.42,61.62 324.88,63.91 325.34,66.14 325.80,68.30 326.25,70.41 326.71,72.50 327.17,74.56 327.63,76.62 328.08,78.67 328.54,80.73 329.00,82.80 329.46,84.87 329.91,86.94 330.37,88.99 330.83,91.02 331.29,93.02 331.75,94.96 332.20,96.84 332.66,98.63 333.12,100.33 333.57,101.94 334.03,103.43 334.49,104.82 334.95,106.10 335.40,107.28 335.86,108.37 336.32,109.37 336.78,110.30 337.24,111.16 337.69,111.96 338.15,112.72 338.61,113.45 339.06,114.14 339.52,114.82 339.98,115.47 340.44,116.11 340.89,116.73 341.35,117.34 341.81,117.94 342.27,118.52 342.73,119.09 343.18,119.64 343.64,120.18 344.10,120.70 344.56,121.19 345.01,121.67 345.47,122.13 345.93,122.57 346.38,122.98 346.84,123.38 347.30,123.75 347.76,124.11 348.22,124.44 348.67,124.75 349.13,125.05 349.59,125.32 350.04,125.57 350.50,125.81 350.96,126.03 351.42,126.23 351.88,126.41 352.33,126.58 352.79,126.73 353.25,126.87 353.70,126.99 354.16,127.10 354.62,127.21 355.08,127.30 355.53,127.38 355.99,127.45 356.45,127.52 356.91,127.58 357.37,127.63 357.82,127.67 358.28,127.71 358.74,127.73 359.19,127.76 359.65,127.77 360.11,127.78 360.57,127.77 361.02,127.76 361.48,127.74 361.94,127.71 362.40,127.68 362.86,127.63 363.31,127.58 363.77,127.52 364.23,127.45 364.68,127.37 365.14,127.29 365.60,127.20 366.06,127.10 366.51,127.00 366.97,126.89 367.43,126.78 367.89,126.66 368.34,126.54 368.80,126.41 369.26,126.27 369.72,126.14 370.17,126.00 370.63,125.85 371.09,125.71 371.55,125.56 372.00,125.40 372.46,125.25 372.92,125.09 373.38,124.93 373.83,124.76 374.29,124.60 374.75,124.43 375.21,124.26 375.66,124.08 376.12,123.91 376.58,123.73 377.04,123.55 377.50,123.37 377.95,123.19 378.41,123.01 378.87,122.82 379.32,122.64 379.78,122.45 380.24,122.26 380.70,122.08 381.15,121.89 381.61,121.70 382.07,121.51 382.53,121.31 382.99,121.12 383.44,120.93 383.90,120.74 384.36,120.54 384.81,120.35 385.27,120.16 385.73,119.96 386.19,119.77 386.64,119.57 387.10,119.38 387.56,119.18 388.02,118.99 388.48,118.80 388.93,118.60 389.39,118.41 389.85,118.22 390.31,118.02 390.76,117.83 391.22,117.64 391.68,117.45 392.13,117.25 392.59,117.06 393.05,116.87 393.51,116.68 393.97,116.49 394.42,116.30 394.88,116.12 395.34,115.93 395.80,115.74 396.25,115.55 396.71,115.37 397.17,115.18 397.62,115.00 398.08,114.82 398.54,114.63 399.00,114.45 399.45,114.27 399.91,114.09 400.37,113.91 400.83,113.73 401.28,113.56 401.74,113.38 402.20,113.20 402.66,113.03 403.11,112.86 403.57,112.68 404.03,112.51 404.49,112.34 404.94,112.17 405.40,112.00 405.86,111.83 406.32,111.67 406.77,111.50 407.23,111.34 407.69,111.17 408.15,111.01 408.61,110.85 409.06,110.69 409.52,110.53 409.98,110.37 410.43,110.21 410.89,110.05 411.35,109.89 411.81,109.73 412.26,109.58 412.72,109.42 413.18,109.26 413.64,109.11 414.09,108.95 414.55,108.79 415.01,108.63 415.47,108.48 415.93,108.32 416.38,108.16 416.84,108.00 417.30,107.83 417.75,107.67 418.21,107.52 418.67,107.36 419.13,107.20 419.58,107.05 420.04,106.90 420.50,106.75 420.96,106.61 421.41,106.47 421.87,106.34 422.33,106.21 422.79,106.08 423.25,105.96 423.70,105.85 424.16,105.74 424.62,105.63 425.07,105.52 425.53,105.42 425.99,105.31 426.45,105.21 426.90,105.11 427.36,105.01 427.82,104.90 428.28,104.80 428.74,104.69 429.19,104.59 429.65,104.48 430.11,104.38 430.56,104.27 431.02,104.16 431.48,104.06 431.94,103.95 432.39,103.84 432.85,103.74 433.31,103.63 433.77,103.52 434.23,103.42 434.68,103.31 435.14,103.21 435.60,103.11 436.06,103.00 436.51,102.90 436.97,102.80 437.43,102.70 437.88,102.60 438.34,102.50 438.80,102.41 439.26,102.31 439.72,102.21 440.17,102.12 440.63,102.03 441.09,101.93 441.54,101.84 442.00,101.75 442.46,101.66 442.92,101.57 443.38,101.48 443.83,101.39 444.29,101.30 444.75,101.21 445.20,101.13 445.66,101.04 446.12,100.95 446.58,100.87 447.03,100.79 447.49,100.70 447.95,100.62 448.41,100.54 448.87,100.46 449.32,100.38 449.78,100.30 450.24,100.22 450.70,100.14 451.15,100.07 451.61,99.99 452.07,99.91 452.52,99.84 452.98,99.76 453.44,99.69 453.90,99.61 454.36,99.54 454.81,99.47 455.27,99.40 455.73,99.33 456.18,99.26 456.64,99.19 457.10,99.12 457.56,99.05 458.01,98.98 458.47,98.91 458.93,98.84 459.39,98.78 459.84,98.71 460.30,98.65 460.76,98.58 461.22,98.52 461.68,98.46 462.13,98.39 462.59,98.33 463.05,98.27 463.50,98.21 463.96,98.15 464.42,98.08 464.88,98.02 465.33,97.97 465.79,97.91 466.25,97.85 466.71,97.79 467.16,97.73 467.62,97.68 468.08,97.62 468.54,97.56 469.00,97.51 469.45,97.45 469.91,97.40 470.37,97.34 470.82,97.29 471.28,97.24 471.74,97.19 472.20,97.13 472.65,97.08 473.11,97.03 473.57,96.98 474.03,96.93 474.49,96.88 474.94,96.83 475.40,96.78 475.86,96.73 476.31,96.68 476.77,96.63 477.23,96.59 477.69,96.54 478.14,96.49 478.60,96.45 479.06,96.40 479.52,96.35 479.98,96.31 480.43,96.27 480.89,96.22 481.35,96.18 481.81,96.14 482.26,96.10 482.72,96.06 483.18,96.02 483.63,95.98 484.09,95.95 484.55,95.92 485.01,95.89 485.47,95.86 485.92,95.84 486.38,95.82 486.84,95.81 487.29,95.80 487.75,95.79 488.21,95.79 488.67,95.79 489.12,95.79 489.58,95.80 490.04,95.81 490.50,95.81 490.95,95.82 491.41,95.82 491.87,95.82 492.33,95.81 492.78,95.80 493.24,95.77 493.70,95.74" fill="none" stroke="#5a5ad2" stroke-width="0.75"/>
<polygon points="319.85,30.69 322.13,34.53 317.57,34.53" fill="none" stroke="#5a5ad2" stroke-width="0.8"/>
<polygon points="324.43,59.22 326.70,63.06 322.15,63.06" fill="none" stroke="#5a5ad2" stroke-width="0.8"/>
<polygon points="329.00,80.40 331.28,84.24 326.72,84.24" fill="none" stroke="#5a5ad2" stroke-width="0.8"/>
<polygon points="333.57,99.54 335.85,103.38 331.30,103.38" fill="none" stroke="#5a5ad2" stroke-width="0.8"/>
<polygon points="338.15,110.32 340.43,114.16 335.87,114.16" fill="none" stroke="#5a5ad2" stroke-width="0.8"/>
<polygon points="342.73,116.69 345.00,120.53 340.45,120.53" fill="none" stroke="#5a5ad2" stroke-width="0.8"/>
<polygon points="347.30,121.35 349.58,125.19 345.02,125.19" fill="none" stroke="#5a5ad2" stroke-width="0.8"/>
<polygon points="351.88,124.01 354.15,127.85 349.60,127.85" fill="none" stroke="#5a5ad2" stroke-width="0.8"/>
<polygon points="356.45,125.12 358.73,128.96 354.17,128.96" fill="none" stroke="#5a5ad2" stroke-width="0.8"/>
<polygon points="361.03,125.36 363.31,129.20 358.75,129.20" fill="none" stroke="#5a5ad2" stroke-width="0.8"/>
<polygon points="365.60,124.80 367.88,128.64 363.32,128.64" fill="none" stroke="#5a5ad2" stroke-width="0.8"/>
<polygon points="370.18,123.60 372.46,127.44 367.90,127.44" fill="none" stroke="#5a5ad2" stroke-width="0.8"/>
<polygon points="374.75,122.03 377.03,125.87 372.47,125.87" fill="none" stroke="#5a5ad2" stroke-width="0.8"/>
<polygon points="379.33,120.24 381.61,124.08 377.05,124.08" fill="none" stroke="#5a5ad2" stroke-width="0.8"/>
<polygon points="383.90,118.34 386.18,122.18 381.62,122.18" fill="none" stroke="#5a5ad2" stroke-width="0.8"/>
<polygon points="388.48,116.40 390.75,120.24 386.20,120.24" fill="none" stroke="#5a5ad2" stroke-width="0.8"/>
<polygon points="393.05,114.47 395.33,118.31 390.77,118.31" fill="none" stroke="#5a5ad2" stroke-width="0.8"/>
<polygon points="397.63,112.60 399.91,116.44 395.35,116.44" fill="none" stroke="#5a5ad2" stroke-width="0.8"/>
<polygon points="402.20,110.80 404.48,114.64 399.92,114.64" fill="none" stroke="#5a5ad2" stroke-width="0.8"/>
<polygon points="406.78,109.10 409.06,112.94 404.50,112.94" fill="none" stroke="#5a5ad2" stroke-width="0.8"/>
<polygon points="411.35,107.49 413.63,111.33 409.07,111.33" fill="none" stroke="#5a5ad2" stroke-width="0.8"/>
<polygon points="415.93,105.92 418.21,109.76 413.65,109.76" fill="none" stroke="#5a5ad2" stroke-width="0.8"/>
<polygon points="420.50,104.35 422.78,108.19 418.22,108.19" fill="none" stroke="#5a5ad2" stroke-width="0.8"/>
<polygon points="425.08,103.12 427.36,106.96 422.80,106.96" fill="none" stroke="#5a5ad2" stroke-width="0.8"/>
<polygon points="429.65,102.08 431.93,105.92 427.37,105.92" fill="none" stroke="#5a5ad2" stroke-width="0.8"/>
<polygon points="434.23,101.02 436.51,104.86 431.95,104.86" fill="none" stroke="#5a5ad2" stroke-width="0.8"/>
<polygon points="438.80,100.01 441.08,103.85 436.52,103.85" fill="none" stroke="#5a5ad2" stroke-width="0.8"/>
<polygon points="443.38,99.08 445.66,102.92 441.10,102.92" fill="none" stroke="#5a5ad2" stroke-width="0.8"/>
<polygon points="447.95,98.22 450.23,102.06 445.67,102.06" fill="none" stroke="#5a5ad2" stroke-width="0.8"/>
<polygon points="452.53,97.44 454.81,101.28 450.25,101.28" fill="none" stroke="#5a5ad2" stroke-width="0.8"/>
<polygon points="457.10,96.72 459.38,100.56 454.82,100.56" fill="none" stroke="#5a5ad2" stroke-width="0.8"/>
<polygon points="461.68,96.06 463.96,99.90 459.40,99.90" fill="none" stroke="#5a5ad2" stroke-width="0.8"/>
<polygon points="466.25,95.45 468.53,99.29 463.97,99.29" fill="none" stroke="#5a5ad2" stroke-width="0.8"/>
<polygon points="470.83,94.89 473.11,98.73 468.55,98.73" fill="none" stroke="#5a5ad2" stroke-width="0.8"/>
<polygon points="475.40,94.38 477.68,98.22 473.12,98.22" fill="none" stroke="#5a5ad2" stroke-width="0.8"/>
<polygon points="479.98,93.91 482.26,97.75 477.70,97.75" fill="none" stroke="#5a5ad2" stroke-width="0.8"/>
<polygon points="484.55,93.52 486.83,97.36 482.27,97.36" fill="none" stroke="#5a5ad2" stroke-width="0.8"/>
<polygon points="489.13,93.39 491.41,97.23 486.85,97.23" fill="none" stroke="#5a5ad2" stroke-width="0.8"/>
<polygon points="493.70,93.34 495.98,97.18 491.42,97.18" fill="none" stroke="#5a5ad2" stroke-width="0.8"/>
<polyline points="326.71,-35.68 327.17,-30.20 327.63,-24.90 328.08,-19.77 328.54,-14.81 329.00,-10.01 329.46,-5.39 329.91,-0.93 330.37,3.36 330.83,7.48 331.29,11.44 331.75,15.23 332.20,18.86 332.66,22.33 333.12,25.65 333.57,28.83 334.03,31.87 334.49,34.79 334.95,37.61 335.40,40.33 335.86,42.96 336.32,45.53 336.78,48.04 337.24,50.50 337.69,52.91 338.15,55.28 338.61,57.61 339.06,59.89 339.52,62.13 339.98,64.30 340.44,66.42 340.89,68.46 341.35,70.42 341.81,72.30 342.27,74.09 342.73,75.80 343.18,77.42 343.64,78.97 344.10,80.45 344.56,81.86 345.01,83.22 345.47,84.53 345.93,85.80 346.38,87.04 346.84,88.24 347.30,89.42 347.76,90.56 348.22,91.66 348.67,92.73 349.13,93.75 349.59,94.71 350.04,95.61 350.50,96.45 350.96,97.22 351.42,97.93 351.88,98.58 352.33,99.16 352.79,99.69 353.25,100.18 353.70,100.63 354.16,101.06 354.62,101.47 355.08,101.86 355.53,102.26 355.99,102.65 356.45,103.05 356.91,103.46 357.37,103.87 357.82,104.28 358.28,104.70 358.74,105.12 359.19,105.53 359.65,105.93 360.11,106.32 360.57,106.69 361.02,107.05 361.48,107.39 361.94,107.71 362.40,108.00 362.86,108.28 363.31,108.53 363.77,108.76 364.23,108.97 364.68,109.15 365.14,109.32 365.60,109.47 366.06,109.59 366.51,109.70 366.97,109.78 367.43,109.84 367.89,109.88 368.34,109.91 368.80,109.91 369.26,109.89 369.72,109.86 370.17,109.81 370.63,109.75 371.09,109.68 371.55,109.61 372.00,109.53 372.46,109.46 372.92,109.39 373.38,109.34 373.83,109.30 374.29,109.28 374.75,109.28 375.21,109.30 375.66,109.33 376.12,109.39 376.58,109.47 377.04,109.56 377.50,109.67 377.95,109.78 378.41,109.91 378.87,110.04 379.32,110.17 379.78,110.30 380.24,110.42 380.70,110.55 381.15,110.66 381.61,110.77 382.07,110.87 382.53,110.95 382.99,111.02 383.44,111.08 383.90,111.12 384.36,111.14 384.81,111.15 385.27,111.13 385.73,111.10 386.19,111.04 386.64,110.97 387.10,110.87 387.56,110.76 388.02,110.63 388.48,110.49 388.93,110.34 389.39,110.19 389.85,110.02 390.31,109.86 390.76,109.70 391.22,109.54 391.68,109.39 392.13,109.24 392.59,109.10 393.05,108.97 393.51,108.85 393.97,108.75 394.42,108.65 394.88,108.56 395.34,108.49 395.80,108.42 396.25,108.36 396.71,108.31 397.17,108.27 397.62,108.24 398.08,108.20 398.54,108.17 399.00,108.14 399.45,108.11 399.91,108.07 400.37,108.03 400.83,107.97 401.28,107.91 401.74,107.83 402.20,107.75 402.66,107.65 403.11,107.54 403.57,107.41 404.03,107.28 404.49,107.13 404.94,106.98 405.40,106.83 405.86,106.67 406.32,106.51 406.77,106.36 407.23,106.20 407.69,106.05 408.15,105.91 408.61,105.77 409.06,105.63 409.52,105.50 409.98,105.38 410.43,105.26 410.89,105.14 411.35,105.03 411.81,104.92 412.26,104.81 412.72,104.71 413.18,104.60 413.64,104.49 414.09,104.38 414.55,104.26 415.01,104.15 415.47,104.03 415.93,103.90 416.38,103.77 416.84,103.64 417.30,103.51 417.75,103.38 418.21,103.24 418.67,103.11 419.13,102.98 419.58,102.85 420.04,102.73 420.50,102.62 420.96,102.51 421.41,102.42 421.87,102.33 422.33,102.26 422.79,102.20 423.25,102.14 423.70,102.10 424.16,102.06 424.62,102.03 425.07,102.00 425.53,101.98 425.99,101.96 426.45,101.93 426.90,101.91 427.36,101.88 427.82,101.85 428.28,101.82 428.74,101.78 429.19,101.74 429.65,101.69 430.11,101.64 430.56,101.59 431.02,101.54 431.48,101.48 431.94,101.42 432.39,101.36 432.85,101.29 433.31,101.23 433.77,101.17 434.23,101.10 434.68,101.04 435.14,100.97 435.60,100.91 436.06,100.84 436.51,100.78 436.97,100.72 437.43,100.65 437.88,100.59 438.34,100.53 438.80,100.47 439.26,100.40 439.72,100.34 440.17,100.28 440.63,100.22 441.09,100.16 441.54,100.10 442.00,100.04 442.46,99.98 442.92,99.93 443.38,99.87 443.83,99.81 444.29,99.75 444.75,99.70 445.20,99.64 445.66,99.58 446.12,99.53 446.58,99.47 447.03,99.42 447.49,99.37 447.95,99.31 448.41,99.26 448.87,99.20 449.32,99.15 449.78,99.10 450.24,99.05 450.70,99.00 451.15,98.94 451.61,98.89 452.07,98.84 452.52,98.79 452.98,98.74 453.44,98.69 453.90,98.64 454.36,98.59 454.81,98.55 455.27,98.50 455.73,98.45 456.18,98.40 456.64,98.36 457.10,98.31 457.56,98.26 458.01,98.22 458.47,98.17 458.93,98.12 459.39,98.08 459.84,98.03 460.30,97.99 460.76,97.95 461.22,97.90 461.68,97.86 462.13,97.81 462.59,97.77 463.05,97.73 463.50,97.69 463.96,97.64 464.42,97.60 464.88,97.56 465.33,97.52 465.79,97.48 466.25,97.44 466.71,97.40 467.16,97.36 467.62,97.32 468.08,97.28 468.54,97.24 469.00,97.20 469.45,97.16 469.91,97.12 470.37,97.08 470.82,97.05 471.28,97.01 471.74,96.97 472.20,96.93 472.65,96.90 473.11,96.86 473.57,96.82 474.03,96.79 474.49,96.75 474.94,96.72 475.40,96.68 475.86,96.65 476.31,96.61 476.77,96.58 477.23,96.54 477.69,96.51 478.14,96.47 478.60,96.44 479.06,96.41 479.52,96.37 479.98,96.34 480.43,96.31 480.89,96.27 481.35,96.24 481.81,96.21 482.26,96.18 482.72,96.14 483.18,96.11 483.63,96.08 484.09,96.05 484.55,96.02 485.01,95.98 485.47,95.95 485.92,95.92 486.38,95.89 486.84,95.86 487.29,95.83 487.75,95.79 488.21,95.76 488.67,95.73 489.12,95.70 489.58,95.66 490.04,95.63 490.50,95.60 490.95,95.57 491.41,95.54 491.87,95.51 492.33,95.48 492.78,95.45 493.24,95.42 493.70,95.39" fill="none" stroke="#e48686" stroke-width="0.75" stroke-dasharray="2.5,1.5"/>
<polygon points="333.57,31.23 335.85,27.39 331.30,27.39" fill="none" stroke="#e48686" stroke-width="0.8"/>
<polygon points="338.15,57.68 340.43,53.84 335.87,53.84" fill="none" stroke="#e48686" stroke-width="0.8"/>
<polygon points="342.73,78.20 345.00,74.36 340.45,74.36" fill="none" stroke="#e48686" stroke-width="0.8"/>
<polygon points="347.30,91.82 349.58,87.98 345.02,87.98" fill="none" stroke="#e48686" stroke-width="0.8"/>
<polygon points="351.88,100.98 354.15,97.14 349.60,97.14" fill="none" stroke="#e48686" stroke-width="0.8"/>
<polygon points="356.45,105.45 358.73,101.61 354.17,101.61" fill="none" stroke="#e48686" stroke-width="0.8"/>
<polygon points="361.03,109.45 363.31,105.61 358.75,105.61" fill="none" stroke="#e48686" stroke-width="0.8"/>
<polygon points="365.60,111.87 367.88,108.03 363.32,108.03" fill="none" stroke="#e48686" stroke-width="0.8"/>
<polygon points="370.18,112.21 372.46,108.37 367.90,108.37" fill="none" stroke="#e48686" stroke-width="0.8"/>
<polygon points="374.75,111.68 377.03,107.84 372.47,107.84" fill="none" stroke="#e48686" stroke-width="0.8"/>
<polygon points="379.33,112.57 381.61,108.73 377.05,108.73" fill="none" stroke="#e48686" stroke-width="0.8"/>
<polygon points="383.90,113.52 386.18,109.68 381.62,109.68" fill="none" stroke="#e48686" stroke-width="0.8"/>
<polygon points="388.48,112.89 390.75,109.05 386.20,109.05" fill="none" stroke="#e48686" stroke-width="0.8"/>
<polygon points="393.05,111.37 395.33,107.53 390.77,107.53" fill="none" stroke="#e48686" stroke-width="0.8"/>
<polygon points="397.63,110.64 399.91,106.80 395.35,106.80" fill="none" stroke="#e48686" stroke-width="0.8"/>
<polygon points="402.20,110.15 404.48,106.31 399.92,106.31" fill="none" stroke="#e48686" stroke-width="0.8"/>
<polygon points="406.78,108.76 409.06,104.92 404.50,104.92" fill="none" stroke="#e48686" stroke-width="0.8"/>
<polygon points="411.35,107.43 413.63,103.59 409.07,103.59" fill="none" stroke="#e48686" stroke-width="0.8"/>
<polygon points="415.93,106.30 418.21,102.46 413.65,102.46" fill="none" stroke="#e48686" stroke-width="0.8"/>
<polygon points="420.50,105.02 422.78,101.18 418.22,101.18" fill="none" stroke="#e48686" stroke-width="0.8"/>
<polygon points="425.08,104.40 427.36,100.56 422.80,100.56" fill="none" stroke="#e48686" stroke-width="0.8"/>
<polygon points="429.65,104.09 431.93,100.25 427.37,100.25" fill="none" stroke="#e48686" stroke-width="0.8"/>
<polygon points="434.23,103.50 436.51,99.66 431.95,99.66" fill="none" stroke="#e48686" stroke-width="0.8"/>
<polygon points="438.80,102.87 441.08,99.03 436.52,99.03" fill="none" stroke="#e48686" stroke-width="0.8"/>
<polygon points="443.38,102.27 445.66,98.43 441.10,98.43" fill="none" stroke="#e48686" stroke-width="0.8"/>
<polygon points="447.95,101.71 450.23,97.87 445.67,97.87" fill="none" stroke="#e48686" stroke-width="0.8"/>
<polygon points="452.53,101.19 454.81,97.35 450.25,97.35" fill="none" stroke="#e48686" stroke-width="0.8"/>
<polygon points="457.10,100.71 459.38,96.87 454.82,96.87" fill="none" stroke="#e48686" stroke-width="0.8"/>
<polygon points="461.68,100.26 463.96,96.42 459.40,96.42" fill="none" stroke="#e48686" stroke-width="0.8"/>
<polygon points="466.25,99.84 468.53,96.00 463.97,96.00" fill="none" stroke="#e48686" stroke-width="0.8"/>
<polygon points="470.83,99.45 473.11,95.61 468.55,95.61" fill="none" stroke="#e48686" stroke-width="0.8"/>
<polygon points="475.40,99.08 477.68,95.24 473.12,95.24" fill="none" stroke="#e48686" stroke-width="0.8"/>
<polygon points="479.98,98.74 482.26,94.90 477.70,94.90" fill="none" stroke="#e48686" stroke-width="0.8"/>
<polygon points="484.55,98.42 486.83,94.58 482.27,94.58" fill="none" stroke="#e48686" stroke-width="0.8"/>
<polygon points="489.13,98.10 491.41,94.26 486.85,94.26" fill="none" stroke="#e48686" stroke-width="0.8"/>
<polygon points="493.70,97.79 495.98,93.95 491.42,93.95" fill="none" stroke="#e48686" stroke-width="0.8"/>
<polyline points="321.22,-34.34 321.68,-29.17 322.14,-24.14 322.59,-19.25 323.05,-14.49 323.51,-9.87 323.97,-5.39 324.42,-1.05 324.88,3.15 325.34,7.20 325.80,11.11 326.25,14.87 326.71,18.48 327.17,21.93 327.63,25.22 328.08,28.37 328.54,31.37 329.00,34.24 329.46,36.97 329.91,39.59 330.37,42.11 330.83,44.53 331.29,46.89 331.75,49.19 332.20,51.44 332.66,53.66 333.12,55.85 333.57,58.02 334.03,60.17 334.49,62.31 334.95,64.42 335.40,66.50 335.86,68.54 336.32,70.54 336.78,72.49 337.24,74.38 337.69,76.21 338.15,77.97 338.61,79.65 339.06,81.27 339.52,82.81 339.98,84.29 340.44,85.71 340.89,87.06 341.35,88.37 341.81,89.62 342.27,90.84 342.73,92.00 343.18,93.13 343.64,94.22 344.10,95.27 344.56,96.27 345.01,97.24 345.47,98.16 345.93,99.04 346.38,99.87 346.84,100.66 347.30,101.40 347.76,102.10 348.22,102.76 348.67,103.38 349.13,103.96 349.59,104.51 350.04,105.03 350.50,105.53 350.96,106.00 351.42,106.45 351.88,106.88 352.33,107.30 352.79,107.70 353.25,108.08 353.70,108.45 354.16,108.81 354.62,109.16 355.08,109.49 355.53,109.81 355.99,110.11 356.45,110.40 356.91,110.68 357.37,110.94 357.82,111.19 358.28,111.43 358.74,111.65 359.19,111.85 359.65,112.05 360.11,112.23 360.57,112.39 361.02,112.55 361.48,112.69 361.94,112.82 362.40,112.93 362.86,113.04 363.31,113.14 363.77,113.22 364.23,113.30 364.68,113.37 365.14,113.44 365.60,113.49 366.06,113.54 366.51,113.59 366.97,113.63 367.43,113.67 367.89,113.70 368.34,113.73 368.80,113.75 369.26,113.78 369.72,113.79 370.17,113.80 370.63,113.81 371.09,113.81 371.55,113.81 372.00,113.80 372.46,113.78 372.92,113.76 373.38,113.73 373.83,113.70 374.29,113.66 374.75,113.62 375.21,113.57 375.66,113.52 376.12,113.46 376.58,113.40 377.04,113.34 377.50,113.27 377.95,113.20 378.41,113.12 378.87,113.04 379.32,112.96 379.78,112.88 380.24,112.79 380.70,112.71 381.15,112.61 381.61,112.52 382.07,112.43 382.53,112.33 382.99,112.23 383.44,112.13 383.90,112.03 384.36,111.93 384.81,111.83 385.27,111.72 385.73,111.62 386.19,111.51 386.64,111.40 387.10,111.29 387.56,111.18 388.02,111.07 388.48,110.96 388.93,110.84 389.39,110.73 389.85,110.62 390.31,110.50 390.76,110.39 391.22,110.27 391.68,110.15 392.13,110.04 392.59,109.92 393.05,109.80 393.51,109.69 393.97,109.57 394.42,109.45 394.88,109.33 395.34,109.21 395.80,109.10 396.25,108.98 396.71,108.86 397.17,108.74 397.62,108.62 398.08,108.51 398.54,108.39 399.00,108.27 399.45,108.15 399.91,108.04 400.37,107.92 400.83,107.80 401.28,107.69 401.74,107.57 402.20,107.45 402.66,107.34 403.11,107.22 403.57,107.11 404.03,106.99 404.49,106.88 404.94,106.76 405.40,106.65 405.86,106.54 406.32,106.42 406.77,106.31 407.23,106.20 407.69,106.09 408.15,105.98 408.61,105.87 409.06,105.76 409.52,105.65 409.98,105.54 410.43,105.42 410.89,105.31 411.35,105.20 411.81,105.09 412.26,104.97 412.72,104.86 413.18,104.74 413.64,104.62 414.09,104.49 414.55,104.37 415.01,104.24 415.47,104.10 415.93,103.96 416.38,103.82 416.84,103.68 417.30,103.53 417.75,103.38 418.21,103.23 418.67,103.08 419.13,102.94 419.58,102.80 420.04,102.67 420.50,102.54 420.96,102.42 421.41,102.31 421.87,102.22 422.33,102.13 422.79,102.05 423.25,101.98 423.70,101.93 424.16,101.87 424.62,101.83 425.07,101.79 425.53,101.75 425.99,101.71 426.45,101.68 426.90,101.64 427.36,101.60 427.82,101.55 428.28,101.51 428.74,101.46 429.19,101.40 429.65,101.34 430.11,101.28 430.56,101.22 431.02,101.15 431.48,101.08 431.94,101.01 432.39,100.94 432.85,100.86 433.31,100.79 433.77,100.72 434.23,100.64 434.68,100.57 435.14,100.49 435.60,100.42 436.06,100.35 436.51,100.27 436.97,100.20 437.43,100.13 437.88,100.05 438.34,99.98 438.80,99.91 439.26,99.84 439.72,99.77 440.17,99.70 440.63,99.63 441.09,99.57 441.54,99.50 442.00,99.43 442.46,99.37 442.92,99.30 443.38,99.23 443.83,99.17 444.29,99.10 444.75,99.04 445.20,98.98 445.66,98.91 446.12,98.85 446.58,98.79 447.03,98.73 447.49,98.67 447.95,98.61 448.41,98.55 448.87,98.49 449.32,98.43 449.78,98.37 450.24,98.31 450.70,98.25 451.15,98.20 451.61,98.14 452.07,98.08 452.52,98.03 452.98,97.97 453.44,97.92 453.90,97.86 454.36,97.81 454.81,97.75 455.27,97.70 455.73,97.65 456.18,97.60 456.64,97.54 457.10,97.49 457.56,97.44 458.01,97.39 458.47,97.34 458.93,97.29 459.39,97.24 459.84,97.19 460.30,97.14 460.76,97.09 461.22,97.05 461.68,97.00 462.13,96.95 462.59,96.90 463.05,96.86 463.50,96.81 463.96,96.77 464.42,96.72 464.88,96.67 465.33,96.63 465.79,96.59 466.25,96.54 466.71,96.50 467.16,96.45 467.62,96.41 468.08,96.37 468.54,96.33 469.00,96.29 469.45,96.24 469.91,96.20 470.37,96.16 470.82,96.12 471.28,96.08 471.74,96.04 472.20,96.00 472.65,95.96 473.11,95.92 473.57,95.88 474.03,95.85 474.49,95.81 474.94,95.77 475.40,95.73 475.86,95.69 476.31,95.66 476.77,95.62 477.23,95.58 477.69,95.55 478.14,95.51 478.60,95.48 479.06,95.44 479.52,95.41 479.98,95.37 480.43,95.34 480.89,95.31 481.35,95.27 481.81,95.24 482.26,95.21 482.72,95.19 483.18,95.16 483.63,95.14 484.09,95.11 484.55,95.10 485.01,95.08 485.47,95.07 485.92,95.07 486.38,95.07 486.84,95.08 487.29,95.09 487.75,95.11 488.21,95.14 488.67,95.17 489.12,95.20 489.58,95.24 490.04,95.28 490.50,95.32 490.95,95.35 491.41,95.38 491.87,95.40 492.33,95.42 492.78,95.42 493.24,95.41 493.70,95.39" fill="none" stroke="#5a5ad2" stroke-width="0.75"/>
<polygon points="324.43,1.35 326.70,-2.49 322.15,-2.49" fill="none" stroke="#5a5ad2" stroke-width="0.8"/>
<polygon points="329.00,36.64 331.28,32.80 326.72,32.80" fill="none" stroke="#5a5ad2" stroke-width="0.8"/>
<polygon points="333.57,60.42 335.85,56.58 331.30,56.58" fill="none" stroke="#5a5ad2" stroke-width="0.8"/>
<polygon points="338.15,80.37 340.43,76.53 335.87,76.53" fill="none" stroke="#5a5ad2" stroke-width="0.8"/>
<polygon points="342.73,94.40 345.00,90.56 340.45,90.56" fill="none" stroke="#5a5ad2" stroke-width="0.8"/>
<polygon points="347.30,103.80 349.58,99.96 345.02,99.96" fill="none" stroke="#5a5ad2" stroke-width="0.8"/>
<polygon points="351.88,109.28 354.15,105.44 349.60,105.44" fill="none" stroke="#5a5ad2" stroke-width="0.8"/>
<polygon points="356.45,112.80 358.73,108.96 354.17,108.96" fill="none" stroke="#5a5ad2" stroke-width="0.8"/>
<polygon points="361.03,114.95 363.31,111.11 358.75,111.11" fill="none" stroke="#5a5ad2" stroke-width="0.8"/>
<polygon points="365.60,115.89 367.88,112.05 363.32,112.05" fill="none" stroke="#5a5ad2" stroke-width="0.8"/>
<polygon points="370.18,116.20 372.46,112.36 367.90,112.36" fill="none" stroke="#5a5ad2" stroke-width="0.8"/>
<polygon points="374.75,116.02 377.03,112.18 372.47,112.18" fill="none" stroke="#5a5ad2" stroke-width="0.8"/>
<polygon points="379.33,115.36 381.61,111.52 377.05,111.52" fill="none" stroke="#5a5ad2" stroke-width="0.8"/>
<polygon points="383.90,114.43 386.18,110.59 381.62,110.59" fill="none" stroke="#5a5ad2" stroke-width="0.8"/>
<polygon points="388.48,113.36 390.75,109.52 386.20,109.52" fill="none" stroke="#5a5ad2" stroke-width="0.8"/>
<polygon points="393.05,112.20 395.33,108.36 390.77,108.36" fill="none" stroke="#5a5ad2" stroke-width="0.8"/>
<polygon points="397.63,111.02 399.91,107.18 395.35,107.18" fill="none" stroke="#5a5ad2" stroke-width="0.8"/>
<polygon points="402.20,109.85 404.48,106.01 399.92,106.01" fill="none" stroke="#5a5ad2" stroke-width="0.8"/>
<polygon points="406.78,108.71 409.06,104.87 404.50,104.87" fill="none" stroke="#5a5ad2" stroke-width="0.8"/>
<polygon points="411.35,107.60 413.63,103.76 409.07,103.76" fill="none" stroke="#5a5ad2" stroke-width="0.8"/>
<polygon points="415.93,106.36 418.21,102.52 413.65,102.52" fill="none" stroke="#5a5ad2" stroke-width="0.8"/>
<polygon points="420.50,104.94 422.78,101.10 418.22,101.10" fill="none" stroke="#5a5ad2" stroke-width="0.8"/>
<polygon points="425.08,104.19 427.36,100.35 422.80,100.35" fill="none" stroke="#5a5ad2" stroke-width="0.8"/>
<polygon points="429.65,103.74 431.93,99.90 427.37,99.90" fill="none" stroke="#5a5ad2" stroke-width="0.8"/>
<polygon points="434.23,103.04 436.51,99.20 431.95,99.20" fill="none" stroke="#5a5ad2" stroke-width="0.8"/>
<polygon points="438.80,102.31 441.08,98.47 436.52,98.47" fill="none" stroke="#5a5ad2" stroke-width="0.8"/>
<polygon points="443.38,101.63 445.66,97.79 441.10,97.79" fill="none" stroke="#5a5ad2" stroke-width="0.8"/>
<polygon points="447.95,101.01 450.23,97.17 445.67,97.17" fill="none" stroke="#5a5ad2" stroke-width="0.8"/>
<polygon points="452.53,100.43 454.81,96.59 450.25,96.59" fill="none" stroke="#5a5ad2" stroke-width="0.8"/>
<polygon points="457.10,99.89 459.38,96.05 454.82,96.05" fill="none" stroke="#5a5ad2" stroke-width="0.8"/>
<polygon points="461.68,99.40 463.96,95.56 459.40,95.56" fill="none" stroke="#5a5ad2" stroke-width="0.8"/>
<polygon points="466.25,98.94 468.53,95.10 463.97,95.10" fill="none" stroke="#5a5ad2" stroke-width="0.8"/>
<polygon points="470.83,98.52 473.11,94.68 468.55,94.68" fill="none" stroke="#5a5ad2" stroke-width="0.8"/>
<polygon points="475.40,98.13 477.68,94.29 473.12,94.29" fill="none" stroke="#5a5ad2" stroke-width="0.8"/>
<polygon points="479.98,97.77 482.26,93.93 477.70,93.93" fill="none" stroke="#5a5ad2" stroke-width="0.8"/>
<polygon points="484.55,97.50 486.83,93.66 482.27,93.66" fill="none" stroke="#5a5ad2" stroke-width="0.8"/>
<polygon points="489.13,97.60 491.41,93.76 486.85,93.76" fill="none" stroke="#5a5ad2" stroke-width="0.8"/>
<polygon points="493.70,97.79 495.98,93.95 491.42,93.95" fill="none" stroke="#5a5ad2" stroke-width="0.8"/>
</g>
<g stroke="#555555" stroke-width="1">
<line x1="310.70" y1="148.7" x2="310.70" y2="146.7"/><line x1="310.70" y1="1.6" x2="310.70" y2="3.6"/>
<line x1="356.45" y1="148.7" x2="356.45" y2="146.7"/><line x1="356.45" y1="1.6" x2="356.45" y2="3.6"/>
<line x1="402.20" y1="148.7" x2="402.20" y2="146.7"/><line x1="402.20" y1="1.6" x2="402.20" y2="3.6"/>
<line x1="447.95" y1="148.7" x2="447.95" y2="146.7"/><line x1="447.95" y1="1.6" x2="447.95" y2="3.6"/>
<line x1="493.70" y1="148.7" x2="493.70" y2="146.7"/><line x1="493.70" y1="1.6" x2="493.70" y2="3.6"/>
<line x1="310.7" y1="136.93" x2="312.7" y2="136.93"/><line x1="493.7" y1="136.93" x2="491.7" y2="136.93"/>
<line x1="310.7" y1="113.40" x2="312.7" y2="113.40"/><line x1="493.7" y1="113.40" x2="491.7" y2="113.40"/>
<line x1="310.7" y1="89.86" x2="312.7" y2="89.86"/><line x1="493.7" y1="89.86" x2="491.7" y2="89.86"/>
<line x1="310.7" y1="66.32" x2="312.7" y2="66.32"/><line x1="493.7" y1="66.32" x2="491.7" y2="66.32"/>
<line x1="310.7" y1="42.79" x2="312.7" y2="42.79"/><line x1="493.7" y1="42.79" x2="491.7" y2="42.79"/>
<line x1="310.7" y1="19.25" x2="312.7" y2="19.25"/><line x1="493.7" y1="19.25" x2="491.7" y2="19.25"/>
</g>
<rect x="310.7" y="1.6" width="183.0" height="147.1" fill="none" stroke="#555555" stroke-width="1.4"/>
<text x="310.70" y="164.7" font-size="12" text-anchor="middle">2</text>
<text x="356.45" y="164.7" font-size="12" text-anchor="middle">3</text>
<text x="402.20" y="164.7" font-size="12" text-anchor="middle">4</text>
<text x="447.95" y="164.7" font-size="12" text-anchor="middle">5</text>
<text x="493.70" y="164.7" font-size="12" text-anchor="middle">6</text>
<text x="306.7" y="24.10" font-size="11.8" text-anchor="end">0.06</text>
<text x="306.7" y="47.64" font-size="11.8" text-anchor="end">0.04</text>
<text x="306.7" y="71.17" font-size="11.8" text-anchor="end">0.02</text>
<text x="306.7" y="94.71" font-size="11.8" text-anchor="end">0</text>
<text x="306.7" y="118.25" font-size="11.8" text-anchor="end">-0.02</text>
<text x="306.7" y="141.78" font-size="11.8" text-anchor="end">-0.04</text>
<text x="403.0" y="179.2" font-size="14" style="stroke-width:0.12px" letter-spacing="0.4" text-anchor="middle"><tspan font-style="italic">D</tspan><tspan font-style="italic" font-size="6.5" dy="1.3">z</tspan><tspan dy="-1.3" dx="2">(Å)</tspan></text>
<text transform="translate(275.3,76.35) rotate(-90)" font-size="14.6" style="stroke-width:0.15px" text-anchor="middle"><tspan font-style="italic">E</tspan><tspan font-style="italic" font-size="8.5" dy="2.6">b</tspan><tspan dy="-2.6" dx="0.5">(eV/atom)</tspan></text>
<line x1="373.7" y1="25.00" x2="391.2" y2="25.00" stroke="#e48686" stroke-width="0.9" stroke-dasharray="2.5,1.5"/>
<polygon points="382.00,22.60 384.28,26.44 379.72,26.44" fill="none" stroke="#e48686" stroke-width="0.8"/>
<text x="394.5" y="28.70" font-size="10.6">GeO-AB(LJ-cf2-ab)</text>
<line x1="373.7" y1="37.50" x2="391.2" y2="37.50" stroke="#5a5ad2" stroke-width="0.9"/>
<polygon points="382.00,35.10 384.28,38.94 379.72,38.94" fill="none" stroke="#5a5ad2" stroke-width="0.8"/>
<text x="394.5" y="41.20" font-size="10.6">GeO-AB(LJ-cf2-ac)</text>
<line x1="373.7" y1="50.00" x2="391.2" y2="50.00" stroke="#e48686" stroke-width="0.9" stroke-dasharray="2.5,1.5"/>
<polygon points="382.00,52.40 384.28,48.56 379.72,48.56" fill="none" stroke="#e48686" stroke-width="0.8"/>
<text x="394.5" y="53.70" font-size="10.6">SiO-AB(LJ-cf2-ab)</text>
<line x1="373.7" y1="62.50" x2="391.2" y2="62.50" stroke="#5a5ad2" stroke-width="0.9"/>
<polygon points="382.00,64.90 384.28,61.06 379.72,61.06" fill="none" stroke="#5a5ad2" stroke-width="0.8"/>
<text x="394.5" y="66.20" font-size="10.6">SiO-AB(LJ-cf2-ac)</text>
<text x="458.6" y="133" font-family="'Liberation Sans',Arial,sans-serif" font-size="14">(b1)</text>
<clipPath id="d40"><rect x="40" y="249.5" width="215" height="160.5"/></clipPath>
<line x1="120.62" y1="249.5" x2="120.62" y2="410" stroke="#dc9c9c" stroke-width="0.9" stroke-dasharray="3,2"/>
<line x1="138.54" y1="249.5" x2="138.54" y2="410" stroke="#a4a4bc" stroke-width="0.9" stroke-dasharray="3,2"/>
<line x1="40" y1="377.90" x2="255" y2="377.90" stroke="#66667a" stroke-width="1" stroke-dasharray="2,2"/>
<g clip-path="url(#d40)">
<polyline points="40.00,253.99 44.48,262.82 48.96,264.59 53.44,262.02 57.92,258.33 62.40,254.96 66.88,254.96 71.35,257.85 75.83,264.59 80.31,274.06 84.79,285.77 89.27,299.09 93.75,313.38 98.23,327.18 102.71,339.70 107.19,351.10 111.67,361.05 116.15,369.23 120.62,375.97 125.10,381.43 129.58,386.09 134.06,389.94 138.54,392.75 143.02,395.07 147.50,397.32 151.98,398.93 156.46,400.53 160.94,401.49 165.42,402.30 169.90,403.42 174.38,404.22 178.85,405.02 183.33,405.51 187.81,405.83 192.29,406.15 196.77,406.27 201.25,406.40 205.73,406.51 210.21,406.63 214.69,406.74 219.17,406.85 223.65,406.95 228.12,407.05 232.60,407.15 237.08,407.24 241.56,407.33 246.04,407.42 250.52,407.50 255.00,407.58" fill="none" stroke="#e05050" stroke-width="0.8"/>
<polyline points="91.96,217.40 93.75,277.11 98.23,331.68 102.71,366.83 107.19,387.37 111.67,399.25 116.15,405.51 120.62,408.72 125.10,410.00 129.58,410.00 134.06,410.00 138.54,410.00 143.02,410.00 147.50,410.00 151.98,410.00 156.46,410.00 160.94,410.00 165.42,410.00 169.90,410.00 174.38,410.00 178.85,410.00 183.33,410.00 187.81,410.00 192.29,410.00 196.77,410.00 201.25,410.00 205.73,410.00 210.21,410.00 214.69,410.00 219.17,410.00 223.65,410.00 228.12,410.00 232.60,410.00 237.08,410.00 241.56,410.00 246.04,410.00 250.52,410.00 255.00,410.00" fill="none" stroke="#58a858" stroke-width="0.75"/>
</g>
<g stroke="#555555" stroke-width="1">
<line x1="80.31" y1="410" x2="80.31" y2="408"/><line x1="80.31" y1="249.5" x2="80.31" y2="251.5"/>
<line x1="125.10" y1="410" x2="125.10" y2="408"/><line x1="125.10" y1="249.5" x2="125.10" y2="251.5"/>
<line x1="169.90" y1="410" x2="169.90" y2="408"/><line x1="169.90" y1="249.5" x2="169.90" y2="251.5"/>
<line x1="214.69" y1="410" x2="214.69" y2="408"/><line x1="214.69" y1="249.5" x2="214.69" y2="251.5"/>
<line x1="40" y1="410.00" x2="42" y2="410.00"/><line x1="255" y1="410.00" x2="253" y2="410.00"/>
<line x1="40" y1="377.90" x2="42" y2="377.90"/><line x1="255" y1="377.90" x2="253" y2="377.90"/>
<line x1="40" y1="345.80" x2="42" y2="345.80"/><line x1="255" y1="345.80" x2="253" y2="345.80"/>
<line x1="40" y1="313.70" x2="42" y2="313.70"/><line x1="255" y1="313.70" x2="253" y2="313.70"/>
<line x1="40" y1="281.60" x2="42" y2="281.60"/><line x1="255" y1="281.60" x2="253" y2="281.60"/>
<line x1="40" y1="249.50" x2="42" y2="249.50"/><line x1="255" y1="249.50" x2="253" y2="249.50"/>
</g>
<rect x="40" y="249.5" width="215" height="160.5" fill="none" stroke="#555555" stroke-width="1.4"/>
<rect x="38.05" y="252.04" width="3.9" height="3.9" fill="#dd1020"/>
<rect x="42.53" y="260.87" width="3.9" height="3.9" fill="#dd1020"/>
<rect x="47.01" y="262.64" width="3.9" height="3.9" fill="#dd1020"/>
<rect x="51.49" y="260.07" width="3.9" height="3.9" fill="#dd1020"/>
<rect x="55.97" y="256.38" width="3.9" height="3.9" fill="#dd1020"/>
<rect x="60.45" y="253.01" width="3.9" height="3.9" fill="#dd1020"/>
<rect x="64.92" y="253.01" width="3.9" height="3.9" fill="#dd1020"/>
<rect x="69.40" y="255.90" width="3.9" height="3.9" fill="#dd1020"/>
<rect x="73.88" y="262.64" width="3.9" height="3.9" fill="#dd1020"/>
<rect x="78.36" y="272.11" width="3.9" height="3.9" fill="#dd1020"/>
<rect x="82.84" y="283.82" width="3.9" height="3.9" fill="#dd1020"/>
<rect x="87.32" y="297.14" width="3.9" height="3.9" fill="#dd1020"/>
<rect x="91.80" y="311.43" width="3.9" height="3.9" fill="#dd1020"/>
<rect x="96.28" y="325.23" width="3.9" height="3.9" fill="#dd1020"/>
<rect x="100.76" y="337.75" width="3.9" height="3.9" fill="#dd1020"/>
<rect x="105.24" y="349.15" width="3.9" height="3.9" fill="#dd1020"/>
<rect x="109.72" y="359.10" width="3.9" height="3.9" fill="#dd1020"/>
<rect x="114.20" y="367.28" width="3.9" height="3.9" fill="#dd1020"/>
<rect x="118.67" y="374.02" width="3.9" height="3.9" fill="#dd1020"/>
<rect x="123.15" y="379.48" width="3.9" height="3.9" fill="#dd1020"/>
<rect x="127.63" y="384.14" width="3.9" height="3.9" fill="#dd1020"/>
<rect x="132.11" y="387.99" width="3.9" height="3.9" fill="#dd1020"/>
<rect x="136.59" y="390.80" width="3.9" height="3.9" fill="#dd1020"/>
<rect x="141.07" y="393.12" width="3.9" height="3.9" fill="#dd1020"/>
<rect x="145.55" y="395.37" width="3.9" height="3.9" fill="#dd1020"/>
<rect x="150.03" y="396.98" width="3.9" height="3.9" fill="#dd1020"/>
<rect x="154.51" y="398.58" width="3.9" height="3.9" fill="#dd1020"/>
<rect x="158.99" y="399.54" width="3.9" height="3.9" fill="#dd1020"/>
<rect x="163.47" y="400.35" width="3.9" height="3.9" fill="#dd1020"/>
<rect x="167.95" y="401.47" width="3.9" height="3.9" fill="#dd1020"/>
<rect x="172.43" y="402.27" width="3.9" height="3.9" fill="#dd1020"/>
<rect x="176.90" y="403.07" width="3.9" height="3.9" fill="#dd1020"/>
<rect x="181.38" y="403.56" width="3.9" height="3.9" fill="#dd1020"/>
<rect x="185.86" y="403.88" width="3.9" height="3.9" fill="#dd1020"/>
<rect x="190.34" y="404.20" width="3.9" height="3.9" fill="#dd1020"/>
<rect x="194.82" y="404.32" width="3.9" height="3.9" fill="#dd1020"/>
<rect x="199.30" y="404.45" width="3.9" height="3.9" fill="#dd1020"/>
<rect x="203.78" y="404.56" width="3.9" height="3.9" fill="#dd1020"/>
<rect x="208.26" y="404.68" width="3.9" height="3.9" fill="#dd1020"/>
<rect x="212.74" y="404.79" width="3.9" height="3.9" fill="#dd1020"/>
<rect x="217.22" y="404.90" width="3.9" height="3.9" fill="#dd1020"/>
<rect x="221.70" y="405.00" width="3.9" height="3.9" fill="#dd1020"/>
<rect x="226.18" y="405.10" width="3.9" height="3.9" fill="#dd1020"/>
<rect x="230.65" y="405.20" width="3.9" height="3.9" fill="#dd1020"/>
<rect x="235.13" y="405.29" width="3.9" height="3.9" fill="#dd1020"/>
<rect x="239.61" y="405.38" width="3.9" height="3.9" fill="#dd1020"/>
<rect x="244.09" y="405.47" width="3.9" height="3.9" fill="#dd1020"/>
<rect x="248.57" y="405.55" width="3.9" height="3.9" fill="#dd1020"/>
<rect x="253.05" y="405.63" width="3.9" height="3.9" fill="#dd1020"/>
<line x1="122.10" y1="410.00" x2="255.00" y2="410.00" stroke="#174f17" stroke-width="1.8"/>
<polygon points="93.75,274.11 96.31,278.43 91.19,278.43" fill="#0b6a12" stroke="#0b6a12" stroke-width="0.3"/>
<polygon points="98.23,328.68 100.79,333.00 95.66,333.00" fill="#0b6a12" stroke="#0b6a12" stroke-width="0.3"/>
<polygon points="102.71,363.83 105.27,368.15 100.14,368.15" fill="#0b6a12" stroke="#0b6a12" stroke-width="0.3"/>
<polygon points="107.19,384.37 109.75,388.69 104.62,388.69" fill="#0b6a12" stroke="#0b6a12" stroke-width="0.3"/>
<polygon points="111.67,396.25 114.23,400.57 109.10,400.57" fill="#0b6a12" stroke="#0b6a12" stroke-width="0.3"/>
<polygon points="116.15,402.51 118.71,406.83 113.58,406.83" fill="#0b6a12" stroke="#0b6a12" stroke-width="0.3"/>
<polygon points="120.62,405.72 123.19,410.04 118.06,410.04" fill="#0b6a12" stroke="#0b6a12" stroke-width="0.3"/>
<polygon points="125.10,406.72 127.48,410.72 122.73,410.72" fill="#0b6a12" stroke="#0b6a12" stroke-width="0.3"/>
<polygon points="129.58,406.72 131.96,410.72 127.21,410.72" fill="#0b6a12" stroke="#0b6a12" stroke-width="0.3"/>
<polygon points="134.06,406.72 136.44,410.72 131.69,410.72" fill="#0b6a12" stroke="#0b6a12" stroke-width="0.3"/>
<polygon points="138.54,406.72 140.92,410.72 136.17,410.72" fill="#0b6a12" stroke="#0b6a12" stroke-width="0.3"/>
<polygon points="143.02,406.72 145.40,410.72 140.65,410.72" fill="#0b6a12" stroke="#0b6a12" stroke-width="0.3"/>
<polygon points="147.50,406.72 149.88,410.72 145.12,410.72" fill="#0b6a12" stroke="#0b6a12" stroke-width="0.3"/>
<polygon points="151.98,406.72 154.35,410.72 149.60,410.72" fill="#0b6a12" stroke="#0b6a12" stroke-width="0.3"/>
<polygon points="156.46,406.72 158.83,410.72 154.08,410.72" fill="#0b6a12" stroke="#0b6a12" stroke-width="0.3"/>
<polygon points="160.94,406.72 163.31,410.72 158.56,410.72" fill="#0b6a12" stroke="#0b6a12" stroke-width="0.3"/>
<polygon points="165.42,406.72 167.79,410.72 163.04,410.72" fill="#0b6a12" stroke="#0b6a12" stroke-width="0.3"/>
<polygon points="169.90,406.72 172.27,410.72 167.52,410.72" fill="#0b6a12" stroke="#0b6a12" stroke-width="0.3"/>
<polygon points="174.38,406.72 176.75,410.72 172.00,410.72" fill="#0b6a12" stroke="#0b6a12" stroke-width="0.3"/>
<polygon points="178.85,406.72 181.23,410.72 176.48,410.72" fill="#0b6a12" stroke="#0b6a12" stroke-width="0.3"/>
<polygon points="183.33,406.72 185.71,410.72 180.96,410.72" fill="#0b6a12" stroke="#0b6a12" stroke-width="0.3"/>
<polygon points="187.81,406.72 190.19,410.72 185.44,410.72" fill="#0b6a12" stroke="#0b6a12" stroke-width="0.3"/>
<polygon points="192.29,406.72 194.67,410.72 189.92,410.72" fill="#0b6a12" stroke="#0b6a12" stroke-width="0.3"/>
<polygon points="196.77,406.72 199.15,410.72 194.40,410.72" fill="#0b6a12" stroke="#0b6a12" stroke-width="0.3"/>
<polygon points="201.25,406.72 203.62,410.72 198.88,410.72" fill="#0b6a12" stroke="#0b6a12" stroke-width="0.3"/>
<polygon points="205.73,406.72 208.10,410.72 203.35,410.72" fill="#0b6a12" stroke="#0b6a12" stroke-width="0.3"/>
<polygon points="210.21,406.72 212.58,410.72 207.83,410.72" fill="#0b6a12" stroke="#0b6a12" stroke-width="0.3"/>
<polygon points="214.69,406.72 217.06,410.72 212.31,410.72" fill="#0b6a12" stroke="#0b6a12" stroke-width="0.3"/>
<polygon points="219.17,406.72 221.54,410.72 216.79,410.72" fill="#0b6a12" stroke="#0b6a12" stroke-width="0.3"/>
<polygon points="223.65,406.72 226.02,410.72 221.27,410.72" fill="#0b6a12" stroke="#0b6a12" stroke-width="0.3"/>
<polygon points="228.12,406.72 230.50,410.72 225.75,410.72" fill="#0b6a12" stroke="#0b6a12" stroke-width="0.3"/>
<polygon points="232.60,406.72 234.98,410.72 230.23,410.72" fill="#0b6a12" stroke="#0b6a12" stroke-width="0.3"/>
<polygon points="237.08,406.72 239.46,410.72 234.71,410.72" fill="#0b6a12" stroke="#0b6a12" stroke-width="0.3"/>
<polygon points="241.56,406.72 243.94,410.72 239.19,410.72" fill="#0b6a12" stroke="#0b6a12" stroke-width="0.3"/>
<polygon points="246.04,406.72 248.42,410.72 243.67,410.72" fill="#0b6a12" stroke="#0b6a12" stroke-width="0.3"/>
<polygon points="250.52,406.72 252.90,410.72 248.15,410.72" fill="#0b6a12" stroke="#0b6a12" stroke-width="0.3"/>
<polygon points="255.00,406.72 257.38,410.72 252.62,410.72" fill="#0b6a12" stroke="#0b6a12" stroke-width="0.3"/>
<text x="80.31" y="425.6" font-size="12" text-anchor="middle">10</text>
<text x="125.10" y="425.6" font-size="12" text-anchor="middle">20</text>
<text x="169.90" y="425.6" font-size="12" text-anchor="middle">30</text>
<text x="214.69" y="425.6" font-size="12" text-anchor="middle">40</text>
<text x="37" y="415.00" font-size="12" text-anchor="end">0</text>
<text x="37" y="382.90" font-size="12" text-anchor="end">20</text>
<text x="37" y="350.80" font-size="12" text-anchor="end">40</text>
<text x="37" y="318.70" font-size="12" text-anchor="end">60</text>
<text x="37" y="286.60" font-size="12" text-anchor="end">80</text>
<text x="37" y="254.50" font-size="12" text-anchor="end">100</text>
<text x="148.0" y="440.6" font-size="14" text-anchor="middle"><tspan font-style="italic">N</tspan><tspan font-style="italic" font-size="9.5" dy="2.3">E</tspan></text>
<text transform="translate(10.5,329.75) rotate(-90)" font-size="14" text-anchor="middle"><tspan font-style="italic">δ</tspan><tspan font-style="italic" font-size="9.5" dy="2.5">E</tspan><tspan dy="-2.5">(%)</tspan></text>
<line x1="189.2" y1="292.00" x2="208.5" y2="292.00" stroke="#d89090" stroke-width="0.7"/>
<rect x="197.20" y="290.40" width="3.2" height="3.2" fill="#dd1020"/>
<text x="210.79999999999998" y="295.80" font-size="10.7">GeO-AA</text>
<line x1="189.2" y1="304.20" x2="208.5" y2="304.20" stroke="#78aa78" stroke-width="0.7"/>
<polygon points="198.80,301.60 201.08,305.44 196.52,305.44" fill="#0b6a12" stroke="#0b6a12" stroke-width="0.3"/>
<text x="210.79999999999998" y="308.00" font-size="10.7">SiO-AA</text>
<text x="219.6" y="362.4" font-family="'Liberation Sans',Arial,sans-serif" font-size="14">(a2)</text>
<clipPath id="d300"><rect x="300.4" y="249.5" width="214.89999999999998" height="160.5"/></clipPath>
<line x1="385.46" y1="249.5" x2="385.46" y2="410" stroke="#dc9c9c" stroke-width="0.9" stroke-dasharray="3,2"/>
<line x1="403.37" y1="249.5" x2="403.37" y2="410" stroke="#a4a4bc" stroke-width="0.9" stroke-dasharray="3,2"/>
<line x1="300.4" y1="377.90" x2="515.3" y2="377.90" stroke="#66667a" stroke-width="1" stroke-dasharray="2,2"/>
<g clip-path="url(#d300)">
<polyline points="300.40,319.96 304.88,332.00 309.35,342.11 313.83,351.58 318.31,359.60 322.79,366.66 327.26,373.09 331.74,378.22 336.22,382.72 340.69,387.05 345.17,390.90 349.65,393.95 354.12,396.68 358.60,399.17 363.08,401.01 367.56,402.30 372.03,403.42 376.51,404.70 380.99,405.51 385.46,406.15 389.94,406.63 394.42,406.95 398.90,407.27 403.37,407.59 407.85,407.83 412.33,408.07 416.80,408.23 421.28,408.39 425.76,409.20 430.24,409.20" fill="none" stroke="#e05050" stroke-width="0.8"/>
<polyline points="364.87,217.40 372.03,284.01 376.51,316.27 380.99,341.31 385.46,359.44 389.94,373.73 394.42,383.92 398.90,390.90 403.37,396.52 407.85,400.77 412.33,403.90 416.80,406.15 421.28,408.07 425.76,409.20 430.24,410.00 434.71,410.00 439.19,410.00 443.67,410.00 448.14,410.00 452.62,410.00 457.10,410.00 461.57,410.00 466.05,410.00 470.53,410.00 475.01,410.00 479.48,410.00 483.96,410.00 488.44,410.00 492.91,410.00 497.39,410.00 501.87,410.00 506.35,410.00 510.82,410.00 515.30,410.00" fill="none" stroke="#58a858" stroke-width="0.75"/>
</g>
<g stroke="#555555" stroke-width="1">
<line x1="340.69" y1="410" x2="340.69" y2="408"/><line x1="340.69" y1="249.5" x2="340.69" y2="251.5"/>
<line x1="385.46" y1="410" x2="385.46" y2="408"/><line x1="385.46" y1="249.5" x2="385.46" y2="251.5"/>
<line x1="430.24" y1="410" x2="430.24" y2="408"/><line x1="430.24" y1="249.5" x2="430.24" y2="251.5"/>
<line x1="475.01" y1="410" x2="475.01" y2="408"/><line x1="475.01" y1="249.5" x2="475.01" y2="251.5"/>
<line x1="300.4" y1="410.00" x2="302.4" y2="410.00"/><line x1="515.3" y1="410.00" x2="513.3" y2="410.00"/>
<line x1="300.4" y1="377.90" x2="302.4" y2="377.90"/><line x1="515.3" y1="377.90" x2="513.3" y2="377.90"/>
<line x1="300.4" y1="345.80" x2="302.4" y2="345.80"/><line x1="515.3" y1="345.80" x2="513.3" y2="345.80"/>
<line x1="300.4" y1="313.70" x2="302.4" y2="313.70"/><line x1="515.3" y1="313.70" x2="513.3" y2="313.70"/>
<line x1="300.4" y1="281.60" x2="302.4" y2="281.60"/><line x1="515.3" y1="281.60" x2="513.3" y2="281.60"/>
<line x1="300.4" y1="249.50" x2="302.4" y2="249.50"/><line x1="515.3" y1="249.50" x2="513.3" y2="249.50"/>
</g>
<rect x="300.4" y="249.5" width="214.89999999999998" height="160.5" fill="none" stroke="#555555" stroke-width="1.4"/>
<rect x="298.45" y="318.01" width="3.9" height="3.9" fill="#dd1020"/>
<rect x="302.93" y="330.05" width="3.9" height="3.9" fill="#dd1020"/>
<rect x="307.40" y="340.16" width="3.9" height="3.9" fill="#dd1020"/>
<rect x="311.88" y="349.63" width="3.9" height="3.9" fill="#dd1020"/>
<rect x="316.36" y="357.65" width="3.9" height="3.9" fill="#dd1020"/>
<rect x="320.84" y="364.71" width="3.9" height="3.9" fill="#dd1020"/>
<rect x="325.31" y="371.14" width="3.9" height="3.9" fill="#dd1020"/>
<rect x="329.79" y="376.27" width="3.9" height="3.9" fill="#dd1020"/>
<rect x="334.27" y="380.77" width="3.9" height="3.9" fill="#dd1020"/>
<rect x="338.74" y="385.10" width="3.9" height="3.9" fill="#dd1020"/>
<rect x="343.22" y="388.95" width="3.9" height="3.9" fill="#dd1020"/>
<rect x="347.70" y="392.00" width="3.9" height="3.9" fill="#dd1020"/>
<rect x="352.18" y="394.73" width="3.9" height="3.9" fill="#dd1020"/>
<rect x="356.65" y="397.22" width="3.9" height="3.9" fill="#dd1020"/>
<rect x="361.13" y="399.06" width="3.9" height="3.9" fill="#dd1020"/>
<rect x="365.61" y="400.35" width="3.9" height="3.9" fill="#dd1020"/>
<rect x="370.08" y="401.47" width="3.9" height="3.9" fill="#dd1020"/>
<rect x="374.56" y="402.75" width="3.9" height="3.9" fill="#dd1020"/>
<rect x="379.04" y="403.56" width="3.9" height="3.9" fill="#dd1020"/>
<rect x="383.51" y="404.20" width="3.9" height="3.9" fill="#dd1020"/>
<rect x="387.99" y="404.68" width="3.9" height="3.9" fill="#dd1020"/>
<rect x="392.47" y="405.00" width="3.9" height="3.9" fill="#dd1020"/>
<rect x="396.95" y="405.32" width="3.9" height="3.9" fill="#dd1020"/>
<rect x="401.42" y="405.64" width="3.9" height="3.9" fill="#dd1020"/>
<rect x="405.90" y="405.88" width="3.9" height="3.9" fill="#dd1020"/>
<rect x="410.38" y="406.12" width="3.9" height="3.9" fill="#dd1020"/>
<rect x="414.85" y="406.28" width="3.9" height="3.9" fill="#dd1020"/>
<rect x="419.33" y="406.44" width="3.9" height="3.9" fill="#dd1020"/>
<rect x="423.81" y="407.25" width="3.9" height="3.9" fill="#dd1020"/>
<rect x="428.29" y="407.25" width="3.9" height="3.9" fill="#dd1020"/>
<line x1="427.24" y1="410.00" x2="515.30" y2="410.00" stroke="#174f17" stroke-width="1.8"/>
<polygon points="372.03,281.01 374.60,285.33 369.47,285.33" fill="#0b6a12" stroke="#0b6a12" stroke-width="0.3"/>
<polygon points="376.51,313.27 379.08,317.59 373.95,317.59" fill="#0b6a12" stroke="#0b6a12" stroke-width="0.3"/>
<polygon points="380.99,338.31 383.55,342.63 378.42,342.63" fill="#0b6a12" stroke="#0b6a12" stroke-width="0.3"/>
<polygon points="385.46,356.44 388.03,360.76 382.90,360.76" fill="#0b6a12" stroke="#0b6a12" stroke-width="0.3"/>
<polygon points="389.94,370.73 392.51,375.05 387.38,375.05" fill="#0b6a12" stroke="#0b6a12" stroke-width="0.3"/>
<polygon points="394.42,380.92 396.98,385.24 391.85,385.24" fill="#0b6a12" stroke="#0b6a12" stroke-width="0.3"/>
<polygon points="398.90,387.90 401.46,392.22 396.33,392.22" fill="#0b6a12" stroke="#0b6a12" stroke-width="0.3"/>
<polygon points="403.37,393.52 405.94,397.84 400.81,397.84" fill="#0b6a12" stroke="#0b6a12" stroke-width="0.3"/>
<polygon points="407.85,397.77 410.41,402.09 405.28,402.09" fill="#0b6a12" stroke="#0b6a12" stroke-width="0.3"/>
<polygon points="412.33,400.90 414.89,405.22 409.76,405.22" fill="#0b6a12" stroke="#0b6a12" stroke-width="0.3"/>
<polygon points="416.80,403.15 419.37,407.47 414.24,407.47" fill="#0b6a12" stroke="#0b6a12" stroke-width="0.3"/>
<polygon points="421.28,405.07 423.85,409.39 418.72,409.39" fill="#0b6a12" stroke="#0b6a12" stroke-width="0.3"/>
<polygon points="425.76,406.20 428.32,410.52 423.19,410.52" fill="#0b6a12" stroke="#0b6a12" stroke-width="0.3"/>
<polygon points="430.24,406.72 432.61,410.72 427.86,410.72" fill="#0b6a12" stroke="#0b6a12" stroke-width="0.3"/>
<polygon points="434.71,406.72 437.09,410.72 432.34,410.72" fill="#0b6a12" stroke="#0b6a12" stroke-width="0.3"/>
<polygon points="439.19,406.72 441.56,410.72 436.81,410.72" fill="#0b6a12" stroke="#0b6a12" stroke-width="0.3"/>
<polygon points="443.67,406.72 446.04,410.72 441.29,410.72" fill="#0b6a12" stroke="#0b6a12" stroke-width="0.3"/>
<polygon points="448.14,406.72 450.52,410.72 445.77,410.72" fill="#0b6a12" stroke="#0b6a12" stroke-width="0.3"/>
<polygon points="452.62,406.72 455.00,410.72 450.25,410.72" fill="#0b6a12" stroke="#0b6a12" stroke-width="0.3"/>
<polygon points="457.10,406.72 459.47,410.72 454.72,410.72" fill="#0b6a12" stroke="#0b6a12" stroke-width="0.3"/>
<polygon points="461.57,406.72 463.95,410.72 459.20,410.72" fill="#0b6a12" stroke="#0b6a12" stroke-width="0.3"/>
<polygon points="466.05,406.72 468.43,410.72 463.68,410.72" fill="#0b6a12" stroke="#0b6a12" stroke-width="0.3"/>
<polygon points="470.53,406.72 472.90,410.72 468.15,410.72" fill="#0b6a12" stroke="#0b6a12" stroke-width="0.3"/>
<polygon points="475.01,406.72 477.38,410.72 472.63,410.72" fill="#0b6a12" stroke="#0b6a12" stroke-width="0.3"/>
<polygon points="479.48,406.72 481.86,410.72 477.11,410.72" fill="#0b6a12" stroke="#0b6a12" stroke-width="0.3"/>
<polygon points="483.96,406.72 486.34,410.72 481.59,410.72" fill="#0b6a12" stroke="#0b6a12" stroke-width="0.3"/>
<polygon points="488.44,406.72 490.81,410.72 486.06,410.72" fill="#0b6a12" stroke="#0b6a12" stroke-width="0.3"/>
<polygon points="492.91,406.72 495.29,410.72 490.54,410.72" fill="#0b6a12" stroke="#0b6a12" stroke-width="0.3"/>
<polygon points="497.39,406.72 499.77,410.72 495.02,410.72" fill="#0b6a12" stroke="#0b6a12" stroke-width="0.3"/>
<polygon points="501.87,406.72 504.24,410.72 499.49,410.72" fill="#0b6a12" stroke="#0b6a12" stroke-width="0.3"/>
<polygon points="506.35,406.72 508.72,410.72 503.97,410.72" fill="#0b6a12" stroke="#0b6a12" stroke-width="0.3"/>
<polygon points="510.82,406.72 513.20,410.72 508.45,410.72" fill="#0b6a12" stroke="#0b6a12" stroke-width="0.3"/>
<polygon points="515.30,406.72 517.67,410.72 512.92,410.72" fill="#0b6a12" stroke="#0b6a12" stroke-width="0.3"/>
<text x="340.69" y="425.6" font-size="12" text-anchor="middle">10</text>
<text x="385.46" y="425.6" font-size="12" text-anchor="middle">20</text>
<text x="430.24" y="425.6" font-size="12" text-anchor="middle">30</text>
<text x="475.01" y="425.6" font-size="12" text-anchor="middle">40</text>
<text x="297.4" y="415.00" font-size="12" text-anchor="end">0</text>
<text x="297.4" y="382.90" font-size="12" text-anchor="end">20</text>
<text x="297.4" y="350.80" font-size="12" text-anchor="end">40</text>
<text x="297.4" y="318.70" font-size="12" text-anchor="end">60</text>
<text x="297.4" y="286.60" font-size="12" text-anchor="end">80</text>
<text x="297.4" y="254.50" font-size="12" text-anchor="end">100</text>
<text x="408.34999999999997" y="440.6" font-size="14" text-anchor="middle"><tspan font-style="italic">N</tspan><tspan font-style="italic" font-size="9.5" dy="2.3">E</tspan></text>
<text transform="translate(270.9,329.75) rotate(-90)" font-size="14" text-anchor="middle"><tspan font-style="italic">δ</tspan><tspan font-style="italic" font-size="9.5" dy="2.5">E</tspan><tspan dy="-2.5">(%)</tspan></text>
<line x1="449.5" y1="292.00" x2="468.8" y2="292.00" stroke="#d89090" stroke-width="0.7"/>
<rect x="457.50" y="290.40" width="3.2" height="3.2" fill="#dd1020"/>
<text x="471.1" y="295.80" font-size="10.7">GeO-AB</text>
<line x1="449.5" y1="304.20" x2="468.8" y2="304.20" stroke="#78aa78" stroke-width="0.7"/>
<polygon points="459.10,301.60 461.38,305.44 456.82,305.44" fill="#0b6a12" stroke="#0b6a12" stroke-width="0.3"/>
<text x="471.1" y="308.00" font-size="10.7">SiO-AB</text>
<text x="486.7" y="366.4" font-family="'Liberation Sans',Arial,sans-serif" font-size="14">(b2)</text>
<rect x="58.6" y="186.5" width="90.4" height="58.5" fill="#9a9a9a" opacity="0.8" filter="url(#blur2)"/>
<rect x="56.6" y="184.5" width="90.4" height="58.5" fill="url(#gg)"/>
<text x="101.80" y="200.8" font-size="14.8" style="stroke-width:0.4px" text-anchor="middle"><tspan font-style="italic">E</tspan><tspan font-style="italic" font-size="9" dy="3.2">b</tspan><tspan dy="-3.2">-</tspan><tspan font-style="italic">D</tspan><tspan font-style="italic" font-size="9" dy="3.2">z</tspan><tspan dy="-3.2"> curve</tspan></text>
<text x="101.80" y="218.9" font-size="14.8" style="stroke-width:0.4px" text-anchor="middle">AA stacking</text>
<text x="101.80" y="235.9" font-size="14.8" style="stroke-width:0.4px" text-anchor="middle"><tspan font-style="italic">δ</tspan><tspan font-style="italic" font-size="9.8" dy="3.6">E</tspan><tspan dy="-3.6">-</tspan><tspan font-style="italic">N</tspan><tspan font-style="italic" font-size="9.8" dy="3.6">E</tspan><tspan dy="-3.6"> curve</tspan></text>
<rect x="224.6" y="187.2" width="88.4" height="58.60000000000002" fill="#9a9a9a" opacity="0.8" filter="url(#blur2)"/>
<rect x="222.6" y="185.2" width="88.4" height="58.60000000000002" fill="url(#gg)"/>
<text x="266.80" y="201.9" font-size="14.8" style="stroke-width:0.4px" text-anchor="middle">LJ-cf2 in</text>
<text x="266.80" y="219.1" font-size="14.8" style="stroke-width:0.4px" text-anchor="middle">AC stacking</text>
<text x="266.80" y="235.6" font-size="14.8" style="stroke-width:0.4px" text-anchor="middle">(LJ-cf2-ac)</text>
<rect x="390" y="187.6" width="89.69999999999999" height="58.20000000000002" fill="#9a9a9a" opacity="0.8" filter="url(#blur2)"/>
<rect x="388" y="185.6" width="89.69999999999999" height="58.20000000000002" fill="url(#gg)"/>
<text x="432.85" y="202.5" font-size="14.8" style="stroke-width:0.4px" text-anchor="middle"><tspan font-style="italic">E</tspan><tspan font-style="italic" font-size="9" dy="3.2">b</tspan><tspan dy="-3.2">-</tspan><tspan font-style="italic">D</tspan><tspan font-style="italic" font-size="9" dy="3.2">z</tspan><tspan dy="-3.2"> curve</tspan></text>
<text x="432.85" y="219.6" font-size="14.8" style="stroke-width:0.4px" text-anchor="middle">AB stacking</text>
<text x="432.85" y="236.6" font-size="14.8" style="stroke-width:0.4px" text-anchor="middle"><tspan font-style="italic">δ</tspan><tspan font-style="italic" font-size="9.8" dy="3.6">E</tspan><tspan dy="-3.6">-</tspan><tspan font-style="italic">N</tspan><tspan font-style="italic" font-size="9.8" dy="3.6">E</tspan><tspan dy="-3.6"> curve</tspan></text>
<polygon points="149.2,214.6 167,198.29999999999998 167,205.4 219.8,205.4 219.8,223.79999999999998 167,223.79999999999998 167,230.9" fill="#9a9a9a" opacity="0.45" transform="translate(1.2,1.5)" filter="url(#blur)"/>
<polygon points="149.2,214.6 167,198.29999999999998 167,205.4 219.8,205.4 219.8,223.79999999999998 167,223.79999999999998 167,230.9" fill="url(#oL)"/>
<polygon points="384.6,214.6 367.3,198.29999999999998 367.3,205.4 313,205.4 313,223.79999999999998 367.3,223.79999999999998 367.3,230.9" fill="#9a9a9a" opacity="0.45" transform="translate(1.2,1.5)" filter="url(#blur)"/>
<polygon points="384.6,214.6 367.3,198.29999999999998 367.3,205.4 313,205.4 313,223.79999999999998 367.3,223.79999999999998 367.3,230.9" fill="url(#oR)"/>
<text x="187.6" y="217.6" font-size="13.1" style="stroke:#201008;stroke-width:0.55px" fill="#201008" text-anchor="middle">Modelling</text>
<text x="344.6" y="217.6" font-size="13.1" style="stroke:#201008;stroke-width:0.55px" fill="#201008" text-anchor="middle">Modelling</text>
</g>
</svg></body></html>
